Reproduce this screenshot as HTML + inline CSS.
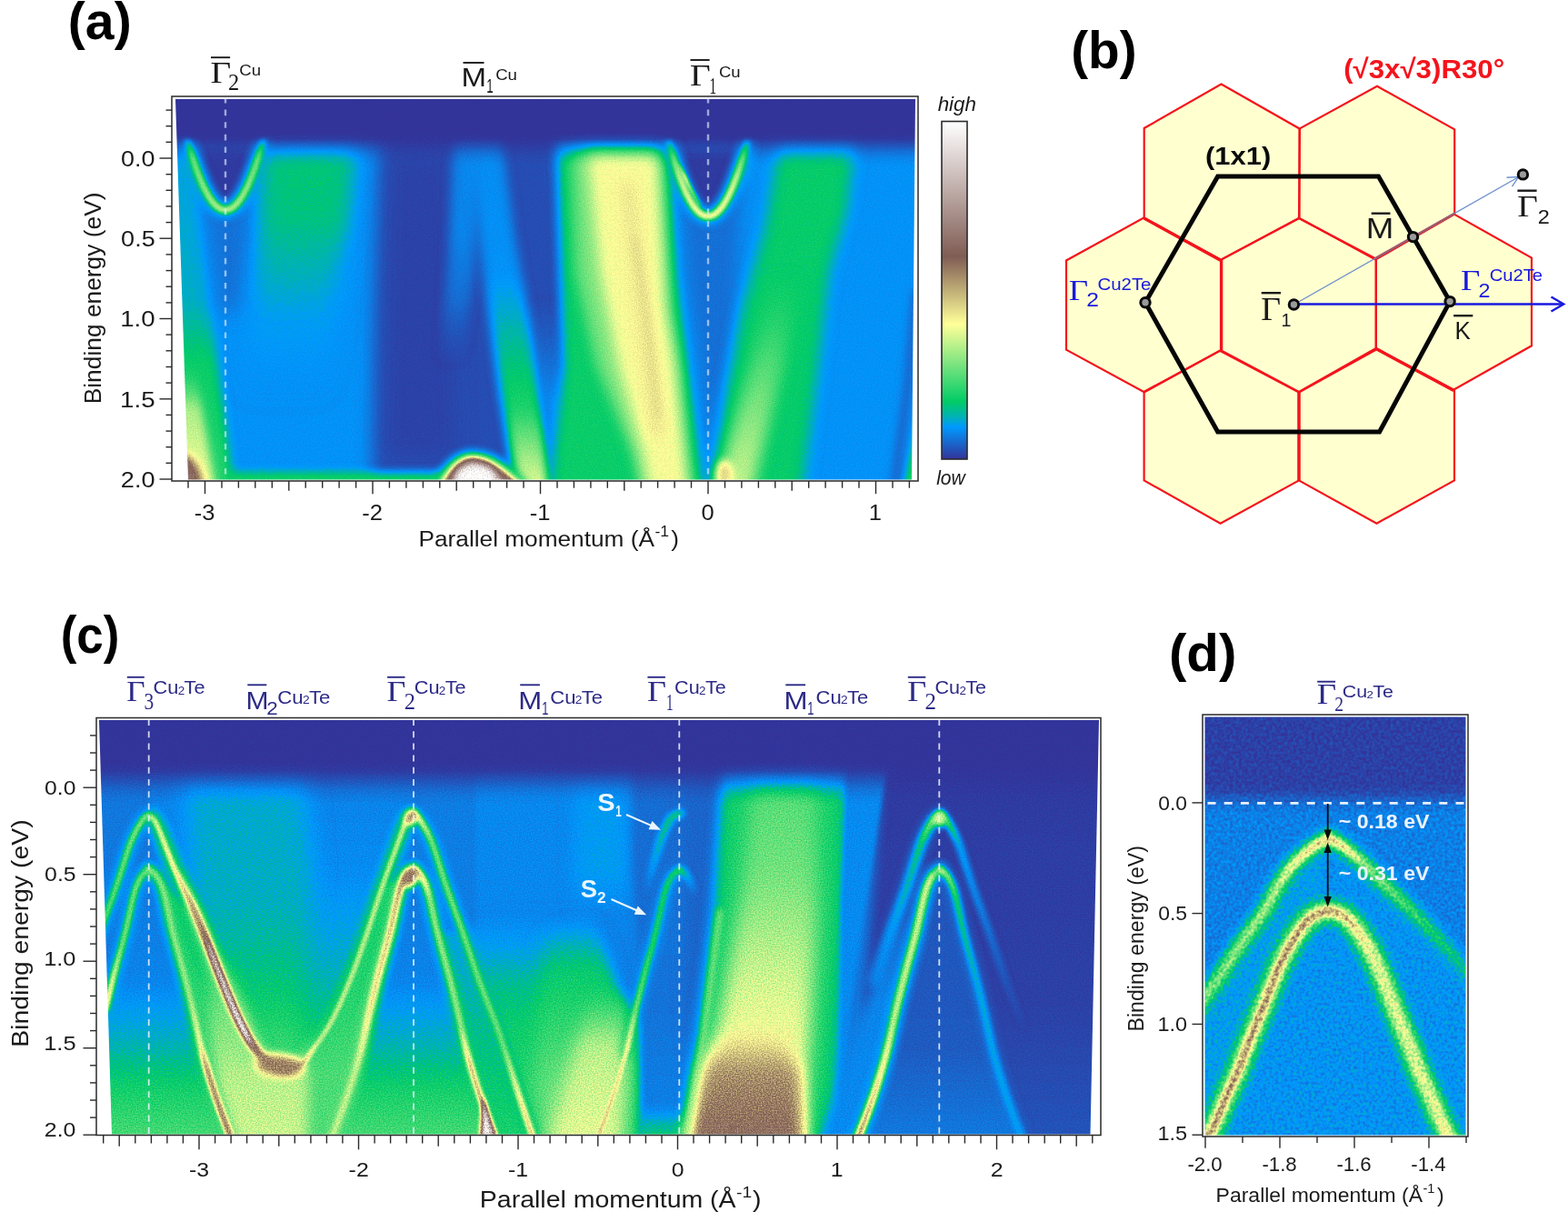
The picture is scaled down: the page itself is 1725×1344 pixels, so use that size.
<!DOCTYPE html>
<html lang="en">
<head>
<meta charset="utf-8">
<title>ARPES band maps of Cu(111) and Cu2Te surface alloy</title>
<style>
html,body{margin:0;padding:0;background:#ffffff;}
body{width:1725px;height:1344px;overflow:hidden;}
svg{display:block;}
text{font-family:"Liberation Sans",sans-serif;}
</style>
</head>
<body>
<svg width="1725" height="1344" viewBox="0 0 1725 1344">
<defs>
<filter id="cmA" filterUnits="userSpaceOnUse" x="150" y="70" width="900" height="500" color-interpolation-filters="sRGB"><feTurbulence type="fractalNoise" baseFrequency="0.8" numOctaves="1" seed="4" result="n"/><feColorMatrix in="n" type="matrix" values="0 0 0 1 0 0 0 0 1 0 0 0 0 1 0 0 0 0 0 1" result="ng"/><feComposite in="SourceGraphic" in2="ng" operator="arithmetic" k1="0.200" k2="0.900" k3="0.035" k4="-0.018" result="s"/><feComponentTransfer in="s"><feFuncR type="table" tableValues="0.2 0.167 0.133 0.1 0.067 0.033 0 0 0 0 0 0.1 0.2 0.3 0.4 0.5 0.6 0.7 0.8 0.9 1 0.95 0.9 0.85 0.8 0.75 0.7 0.65 0.6 0.55 0.5 0.55 0.6 0.65 0.7 0.75 0.8 0.85 0.9 0.95 1"/><feFuncG type="table" tableValues="0.2 0.267 0.333 0.4 0.467 0.533 0.6 0.65 0.7 0.75 0.8 0.82 0.84 0.86 0.88 0.9 0.92 0.94 0.96 0.98 1 0.936 0.872 0.808 0.744 0.68 0.616 0.552 0.488 0.424 0.36 0.424 0.488 0.552 0.616 0.68 0.744 0.808 0.872 0.936 1"/><feFuncB type="table" tableValues="0.6 0.667 0.733 0.8 0.867 0.933 1 0.85 0.7 0.55 0.4 0.42 0.44 0.46 0.48 0.5 0.52 0.54 0.56 0.58 0.6 0.573 0.546 0.519 0.492 0.465 0.438 0.411 0.384 0.357 0.33 0.397 0.464 0.531 0.598 0.665 0.732 0.799 0.866 0.933 1"/></feComponentTransfer></filter>
<filter id="cmC" filterUnits="userSpaceOnUse" x="60" y="750" width="1200" height="540" color-interpolation-filters="sRGB"><feTurbulence type="fractalNoise" baseFrequency="0.7" numOctaves="1" seed="7" result="n"/><feColorMatrix in="n" type="matrix" values="0 0 0 1 0 0 0 0 1 0 0 0 0 1 0 0 0 0 0 1" result="ng"/><feComposite in="SourceGraphic" in2="ng" operator="arithmetic" k1="0.400" k2="0.800" k3="0.050" k4="-0.025" result="s"/><feComponentTransfer in="s"><feFuncR type="table" tableValues="0.2 0.167 0.133 0.1 0.067 0.033 0 0 0 0 0 0.1 0.2 0.3 0.4 0.5 0.6 0.7 0.8 0.9 1 0.95 0.9 0.85 0.8 0.75 0.7 0.65 0.6 0.55 0.5 0.55 0.6 0.65 0.7 0.75 0.8 0.85 0.9 0.95 1"/><feFuncG type="table" tableValues="0.2 0.267 0.333 0.4 0.467 0.533 0.6 0.65 0.7 0.75 0.8 0.82 0.84 0.86 0.88 0.9 0.92 0.94 0.96 0.98 1 0.936 0.872 0.808 0.744 0.68 0.616 0.552 0.488 0.424 0.36 0.424 0.488 0.552 0.616 0.68 0.744 0.808 0.872 0.936 1"/><feFuncB type="table" tableValues="0.6 0.667 0.733 0.8 0.867 0.933 1 0.85 0.7 0.55 0.4 0.42 0.44 0.46 0.48 0.5 0.52 0.54 0.56 0.58 0.6 0.573 0.546 0.519 0.492 0.465 0.438 0.411 0.384 0.357 0.33 0.397 0.464 0.531 0.598 0.665 0.732 0.799 0.866 0.933 1"/></feComponentTransfer></filter>
<filter id="cmD" filterUnits="userSpaceOnUse" x="1280" y="750" width="380" height="540" color-interpolation-filters="sRGB"><feTurbulence type="fractalNoise" baseFrequency="0.3" numOctaves="2" seed="11" result="n"/><feColorMatrix in="n" type="matrix" values="0 0 0 1 0 0 0 0 1 0 0 0 0 1 0 0 0 0 0 1" result="ng"/><feComposite in="SourceGraphic" in2="ng" operator="arithmetic" k1="0.500" k2="0.750" k3="0.090" k4="-0.045" result="s"/><feComponentTransfer in="s"><feFuncR type="table" tableValues="0.2 0.167 0.133 0.1 0.067 0.033 0 0 0 0 0 0.1 0.2 0.3 0.4 0.5 0.6 0.7 0.8 0.9 1 0.95 0.9 0.85 0.8 0.75 0.7 0.65 0.6 0.55 0.5 0.55 0.6 0.65 0.7 0.75 0.8 0.85 0.9 0.95 1"/><feFuncG type="table" tableValues="0.2 0.267 0.333 0.4 0.467 0.533 0.6 0.65 0.7 0.75 0.8 0.82 0.84 0.86 0.88 0.9 0.92 0.94 0.96 0.98 1 0.936 0.872 0.808 0.744 0.68 0.616 0.552 0.488 0.424 0.36 0.424 0.488 0.552 0.616 0.68 0.744 0.808 0.872 0.936 1"/><feFuncB type="table" tableValues="0.6 0.667 0.733 0.8 0.867 0.933 1 0.85 0.7 0.55 0.4 0.42 0.44 0.46 0.48 0.5 0.52 0.54 0.56 0.58 0.6 0.573 0.546 0.519 0.492 0.465 0.438 0.411 0.384 0.357 0.33 0.397 0.464 0.531 0.598 0.665 0.732 0.799 0.866 0.933 1"/></feComponentTransfer></filter>
<clipPath id="clipA"><polygon points="193,109 1007,109 1003,527.5 207,527.5"/></clipPath>
<clipPath id="clipC"><polygon points="109,792 1209,792 1199.5,1247.5 123,1247.5"/></clipPath>
<clipPath id="clipD"><polygon points="1325.5,788.5 1612.5,788.5 1612.5,1248.5 1325.5,1248.5"/></clipPath>
<linearGradient id="g1" gradientUnits="userSpaceOnUse" x1="0" y1="140" x2="0" y2="545"><stop offset="0%" stop-color="rgb(43,43,43)"/><stop offset="46.9%" stop-color="rgb(48,48,48)"/><stop offset="64.2%" stop-color="rgb(66,66,66)"/><stop offset="100%" stop-color="rgb(76,76,76)"/></linearGradient>
<linearGradient id="g2" gradientUnits="userSpaceOnUse" x1="0" y1="400" x2="0" y2="545"><stop offset="0%" stop-color="rgb(76,76,76)" stop-opacity="0"/><stop offset="34.5%" stop-color="rgb(107,107,107)"/><stop offset="100%" stop-color="rgb(128,128,128)"/></linearGradient>
<linearGradient id="g3" gradientUnits="userSpaceOnUse" x1="0" y1="140" x2="0" y2="440"><stop offset="0%" stop-color="rgb(51,51,51)"/><stop offset="53.3%" stop-color="rgb(48,48,48)"/><stop offset="100%" stop-color="rgb(38,38,38)" stop-opacity="0"/></linearGradient>
<linearGradient id="g4" gradientUnits="userSpaceOnUse" x1="0" y1="140" x2="0" y2="345"><stop offset="0%" stop-color="rgb(61,61,61)"/><stop offset="48.8%" stop-color="rgb(60,60,60)"/><stop offset="100%" stop-color="rgb(51,51,51)" stop-opacity="0"/></linearGradient>
<linearGradient id="g5" gradientUnits="userSpaceOnUse" x1="0" y1="140" x2="0" y2="400"><stop offset="0%" stop-color="rgb(33,33,33)"/><stop offset="46.2%" stop-color="rgb(31,31,31)"/><stop offset="73.1%" stop-color="rgb(26,26,26)" stop-opacity="0.8"/><stop offset="100%" stop-color="rgb(18,18,18)" stop-opacity="0"/></linearGradient>
<linearGradient id="g6" gradientUnits="userSpaceOnUse" x1="0" y1="140" x2="0" y2="545"><stop offset="0%" stop-color="rgb(33,33,33)"/><stop offset="39.5%" stop-color="rgb(36,36,36)"/><stop offset="56.8%" stop-color="rgb(54,54,54)"/><stop offset="76.5%" stop-color="rgb(71,71,71)"/><stop offset="88.9%" stop-color="rgb(102,102,102)"/><stop offset="100%" stop-color="rgb(128,128,128)"/></linearGradient>
<linearGradient id="g7" gradientUnits="userSpaceOnUse" x1="0" y1="330" x2="0" y2="545"><stop offset="0%" stop-color="rgb(26,26,26)" stop-opacity="0"/><stop offset="51.2%" stop-color="rgb(34,34,34)"/><stop offset="100%" stop-color="rgb(36,36,36)"/></linearGradient>
<linearGradient id="g8" gradientUnits="userSpaceOnUse" x1="0" y1="300" x2="0" y2="545"><stop offset="0%" stop-color="rgb(76,76,76)" stop-opacity="0"/><stop offset="40.8%" stop-color="rgb(84,84,84)"/><stop offset="81.6%" stop-color="rgb(107,107,107)"/><stop offset="100%" stop-color="rgb(115,115,115)"/></linearGradient>
<linearGradient id="g9" gradientUnits="userSpaceOnUse" x1="0" y1="146" x2="0" y2="186"><stop offset="0%" stop-color="rgb(0,0,0)"/><stop offset="17.5%" stop-color="rgb(0,0,0)" stop-opacity="0.93"/><stop offset="35%" stop-color="rgb(0,0,0)" stop-opacity="0.66"/><stop offset="52.5%" stop-color="rgb(0,0,0)" stop-opacity="0.36"/><stop offset="70%" stop-color="rgb(0,0,0)" stop-opacity="0.14"/><stop offset="85%" stop-color="rgb(0,0,0)" stop-opacity="0.04"/><stop offset="100%" stop-color="rgb(0,0,0)" stop-opacity="0"/></linearGradient>
<linearGradient id="g10" gradientUnits="userSpaceOnUse" x1="0" y1="150" x2="0" y2="231"><stop offset="0%" stop-color="rgb(0,0,0)" stop-opacity="0"/><stop offset="27.2%" stop-color="rgb(3,3,3)"/><stop offset="100%" stop-color="rgb(3,3,3)"/></linearGradient>
<linearGradient id="g11" gradientUnits="userSpaceOnUse" x1="0" y1="151" x2="0" y2="239"><stop offset="0%" stop-color="rgb(33,33,33)" stop-opacity="0"/><stop offset="13.6%" stop-color="rgb(43,43,43)" stop-opacity="0.8"/><stop offset="34.1%" stop-color="rgb(51,51,51)" stop-opacity="0.9"/><stop offset="100%" stop-color="rgb(51,51,51)" stop-opacity="0.9"/></linearGradient>
<linearGradient id="g12" gradientUnits="userSpaceOnUse" x1="0" y1="151" x2="0" y2="236"><stop offset="0%" stop-color="rgb(51,51,51)" stop-opacity="0"/><stop offset="8.2%" stop-color="rgb(64,64,64)" stop-opacity="0.8"/><stop offset="25.9%" stop-color="rgb(92,92,92)"/><stop offset="51.8%" stop-color="rgb(99,99,99)"/><stop offset="94.1%" stop-color="rgb(112,112,112)"/><stop offset="100%" stop-color="rgb(112,112,112)"/></linearGradient>
<linearGradient id="g13" gradientUnits="userSpaceOnUse" x1="0" y1="150" x2="0" y2="238"><stop offset="0%" stop-color="rgb(0,0,0)" stop-opacity="0"/><stop offset="25%" stop-color="rgb(3,3,3)"/><stop offset="100%" stop-color="rgb(3,3,3)"/></linearGradient>
<linearGradient id="g14" gradientUnits="userSpaceOnUse" x1="0" y1="152" x2="0" y2="246"><stop offset="0%" stop-color="rgb(33,33,33)" stop-opacity="0"/><stop offset="12.8%" stop-color="rgb(43,43,43)" stop-opacity="0.8"/><stop offset="31.9%" stop-color="rgb(51,51,51)" stop-opacity="0.9"/><stop offset="100%" stop-color="rgb(51,51,51)" stop-opacity="0.9"/></linearGradient>
<linearGradient id="g15" gradientUnits="userSpaceOnUse" x1="0" y1="152" x2="0" y2="243"><stop offset="0%" stop-color="rgb(51,51,51)" stop-opacity="0"/><stop offset="7.7%" stop-color="rgb(64,64,64)" stop-opacity="0.8"/><stop offset="24.2%" stop-color="rgb(92,92,92)"/><stop offset="52%" stop-color="rgb(120,120,120)"/><stop offset="94.5%" stop-color="rgb(133,133,133)"/><stop offset="100%" stop-color="rgb(133,133,133)"/></linearGradient>
<linearGradient id="g16" gradientUnits="userSpaceOnUse" x1="0" y1="178" x2="0" y2="226"><stop offset="0%" stop-color="rgb(153,153,153)" stop-opacity="0"/><stop offset="35.4%" stop-color="rgb(153,153,153)" stop-opacity="0.8"/><stop offset="100%" stop-color="rgb(148,148,148)" stop-opacity="0.3"/></linearGradient>
<linearGradient id="g17" gradientUnits="userSpaceOnUse" x1="0" y1="840" x2="0" y2="1262"><stop offset="0%" stop-color="rgb(3,3,3)"/><stop offset="61.6%" stop-color="rgb(5,5,5)"/><stop offset="100%" stop-color="rgb(13,13,13)"/></linearGradient>
<linearGradient id="g18" gradientUnits="userSpaceOnUse" x1="0" y1="840" x2="0" y2="1180"><stop offset="0%" stop-color="rgb(29,29,29)"/><stop offset="35.3%" stop-color="rgb(34,34,34)"/><stop offset="64.7%" stop-color="rgb(48,48,48)"/><stop offset="82.4%" stop-color="rgb(61,61,61)"/><stop offset="100%" stop-color="rgb(76,76,76)"/></linearGradient>
<linearGradient id="g19" gradientUnits="userSpaceOnUse" x1="0" y1="840" x2="0" y2="1170"><stop offset="0%" stop-color="rgb(47,47,47)" stop-opacity="0.9"/><stop offset="48.5%" stop-color="rgb(51,51,51)" stop-opacity="0.9"/><stop offset="78.8%" stop-color="rgb(66,66,66)" stop-opacity="0.9"/><stop offset="100%" stop-color="rgb(84,84,84)" stop-opacity="0.9"/></linearGradient>
<linearGradient id="g20" gradientUnits="userSpaceOnUse" x1="0" y1="960" x2="0" y2="1262"><stop offset="0%" stop-color="rgb(61,61,61)"/><stop offset="33.1%" stop-color="rgb(69,69,69)"/><stop offset="72.8%" stop-color="rgb(82,82,82)"/><stop offset="100%" stop-color="rgb(84,84,84)"/></linearGradient>
<linearGradient id="g21" gradientUnits="userSpaceOnUse" x1="0" y1="1040" x2="0" y2="1262"><stop offset="0%" stop-color="rgb(76,76,76)" stop-opacity="0"/><stop offset="31.5%" stop-color="rgb(92,92,92)"/><stop offset="67.6%" stop-color="rgb(110,110,110)"/><stop offset="100%" stop-color="rgb(115,115,115)"/></linearGradient>
<linearGradient id="g22" gradientUnits="userSpaceOnUse" x1="0" y1="957" x2="0" y2="1262"><stop offset="0%" stop-color="rgb(26,26,26)"/><stop offset="40.3%" stop-color="rgb(31,31,31)"/><stop offset="63.3%" stop-color="rgb(51,51,51)"/><stop offset="79.7%" stop-color="rgb(69,69,69)"/><stop offset="100%" stop-color="rgb(84,84,84)"/></linearGradient>
<linearGradient id="g23" gradientUnits="userSpaceOnUse" x1="0" y1="957" x2="0" y2="1262"><stop offset="0%" stop-color="rgb(26,26,26)"/><stop offset="40.3%" stop-color="rgb(31,31,31)"/><stop offset="63.3%" stop-color="rgb(51,51,51)"/><stop offset="79.7%" stop-color="rgb(69,69,69)"/><stop offset="100%" stop-color="rgb(84,84,84)"/></linearGradient>
<linearGradient id="g24" gradientUnits="userSpaceOnUse" x1="0" y1="840" x2="0" y2="1100"><stop offset="0%" stop-color="rgb(33,33,33)"/><stop offset="61.5%" stop-color="rgb(32,32,32)"/><stop offset="100%" stop-color="rgb(31,31,31)" stop-opacity="0"/></linearGradient>
<linearGradient id="g25" gradientUnits="userSpaceOnUse" x1="0" y1="1020" x2="0" y2="1262"><stop offset="0%" stop-color="rgb(41,41,41)"/><stop offset="41.3%" stop-color="rgb(56,56,56)"/><stop offset="100%" stop-color="rgb(71,71,71)"/></linearGradient>
<linearGradient id="g26" gradientUnits="userSpaceOnUse" x1="0" y1="998" x2="0" y2="1262"><stop offset="0%" stop-color="rgb(41,41,41)" stop-opacity="0"/><stop offset="12.1%" stop-color="rgb(46,46,46)" stop-opacity="0.5"/><stop offset="29.2%" stop-color="rgb(55,55,55)"/><stop offset="50%" stop-color="rgb(66,66,66)"/><stop offset="76.5%" stop-color="rgb(74,74,74)"/><stop offset="100%" stop-color="rgb(76,76,76)"/></linearGradient>
<linearGradient id="g27" gradientUnits="userSpaceOnUse" x1="0" y1="1010" x2="0" y2="1262"><stop offset="0%" stop-color="rgb(51,51,51)" stop-opacity="0"/><stop offset="19.8%" stop-color="rgb(64,64,64)" stop-opacity="0.9"/><stop offset="47.6%" stop-color="rgb(76,76,76)"/><stop offset="75.4%" stop-color="rgb(92,92,92)"/><stop offset="100%" stop-color="rgb(99,99,99)"/></linearGradient>
<linearGradient id="g28" gradientUnits="userSpaceOnUse" x1="0" y1="1090" x2="0" y2="1262"><stop offset="0%" stop-color="rgb(89,89,89)" stop-opacity="0"/><stop offset="34.9%" stop-color="rgb(110,110,110)"/><stop offset="100%" stop-color="rgb(122,122,122)"/></linearGradient>
<linearGradient id="g29" gradientUnits="userSpaceOnUse" x1="0" y1="845" x2="0" y2="1010"><stop offset="0%" stop-color="rgb(38,38,38)"/><stop offset="69.7%" stop-color="rgb(40,40,40)"/><stop offset="100%" stop-color="rgb(38,38,38)" stop-opacity="0"/></linearGradient>
<linearGradient id="g30" gradientUnits="userSpaceOnUse" x1="0" y1="957" x2="0" y2="1262"><stop offset="0%" stop-color="rgb(26,26,26)"/><stop offset="46.9%" stop-color="rgb(24,24,24)"/><stop offset="100%" stop-color="rgb(31,31,31)"/></linearGradient>
<linearGradient id="g31" gradientUnits="userSpaceOnUse" x1="0" y1="1215" x2="0" y2="1262"><stop offset="0%" stop-color="rgb(46,46,46)" stop-opacity="0"/><stop offset="48.9%" stop-color="rgb(59,59,59)" stop-opacity="0.9"/><stop offset="100%" stop-color="rgb(69,69,69)"/></linearGradient>
<linearGradient id="g32" gradientUnits="userSpaceOnUse" x1="0" y1="840" x2="0" y2="1262"><stop offset="0%" stop-color="rgb(82,82,82)"/><stop offset="28.4%" stop-color="rgb(92,92,92)"/><stop offset="52.1%" stop-color="rgb(112,112,112)"/><stop offset="73.5%" stop-color="rgb(128,128,128)"/><stop offset="100%" stop-color="rgb(133,133,133)"/></linearGradient>
<linearGradient id="g33" gradientUnits="userSpaceOnUse" x1="0" y1="1130" x2="0" y2="1262"><stop offset="0%" stop-color="rgb(153,153,153)" stop-opacity="0"/><stop offset="34.1%" stop-color="rgb(173,173,173)" stop-opacity="0.9"/><stop offset="100%" stop-color="rgb(194,194,194)"/></linearGradient>
<linearGradient id="g34" gradientUnits="userSpaceOnUse" x1="0" y1="970" x2="0" y2="1262"><stop offset="0%" stop-color="rgb(15,15,15)" stop-opacity="0"/><stop offset="20.5%" stop-color="rgb(23,23,23)" stop-opacity="0.9"/><stop offset="44.5%" stop-color="rgb(31,31,31)"/><stop offset="100%" stop-color="rgb(33,33,33)"/></linearGradient>
<linearGradient id="g35" gradientUnits="userSpaceOnUse" x1="0" y1="957" x2="0" y2="1262"><stop offset="0%" stop-color="rgb(13,13,13)"/><stop offset="63.3%" stop-color="rgb(15,15,15)"/><stop offset="100%" stop-color="rgb(28,28,28)"/></linearGradient>
<linearGradient id="g36" gradientUnits="userSpaceOnUse" x1="0" y1="896" x2="0" y2="1030"><stop offset="0%" stop-color="rgb(107,107,107)"/><stop offset="100%" stop-color="rgb(87,87,87)"/></linearGradient>
<linearGradient id="g37" gradientUnits="userSpaceOnUse" x1="0" y1="957" x2="0" y2="1130"><stop offset="0%" stop-color="rgb(102,102,102)"/><stop offset="48%" stop-color="rgb(102,102,102)"/><stop offset="82.7%" stop-color="rgb(153,153,153)"/><stop offset="100%" stop-color="rgb(153,153,153)"/></linearGradient>
<linearGradient id="g38" gradientUnits="userSpaceOnUse" x1="0" y1="957" x2="0" y2="1262"><stop offset="0%" stop-color="rgb(102,102,102)"/><stop offset="46.9%" stop-color="rgb(112,112,112)"/><stop offset="63.3%" stop-color="rgb(140,140,140)"/><stop offset="100%" stop-color="rgb(153,153,153)"/></linearGradient>
<linearGradient id="g39" gradientUnits="userSpaceOnUse" x1="0" y1="1140" x2="0" y2="1262"><stop offset="0%" stop-color="rgb(153,153,153)" stop-opacity="0"/><stop offset="28.7%" stop-color="rgb(178,178,178)" stop-opacity="0.9"/><stop offset="100%" stop-color="rgb(184,184,184)"/></linearGradient>
<linearGradient id="g40" gradientUnits="userSpaceOnUse" x1="164" y1="0" x2="455" y2="0"><stop offset="0%" stop-color="rgb(76,76,76)" stop-opacity="0.7"/><stop offset="29.6%" stop-color="rgb(102,102,102)" stop-opacity="0.85"/><stop offset="57%" stop-color="rgb(102,102,102)" stop-opacity="0.85"/><stop offset="63.9%" stop-color="rgb(76,76,76)" stop-opacity="0.7"/><stop offset="100%" stop-color="rgb(76,76,76)" stop-opacity="0.7"/></linearGradient>
<linearGradient id="g41" gradientUnits="userSpaceOnUse" x1="164" y1="0" x2="455" y2="0"><stop offset="0%" stop-color="rgb(107,107,107)"/><stop offset="7.2%" stop-color="rgb(128,128,128)"/><stop offset="17.5%" stop-color="rgb(153,153,153)"/><stop offset="58.8%" stop-color="rgb(143,143,143)"/><stop offset="63.9%" stop-color="rgb(112,112,112)"/><stop offset="94.8%" stop-color="rgb(110,110,110)"/><stop offset="100%" stop-color="rgb(128,128,128)"/></linearGradient>
<linearGradient id="g42" gradientUnits="userSpaceOnUse" x1="193" y1="0" x2="316" y2="0"><stop offset="0%" stop-color="rgb(153,153,153)" stop-opacity="0"/><stop offset="17.9%" stop-color="rgb(168,168,168)"/><stop offset="87%" stop-color="rgb(178,178,178)"/><stop offset="100%" stop-color="rgb(178,178,178)" stop-opacity="0.8"/></linearGradient>
<linearGradient id="g43" gradientUnits="userSpaceOnUse" x1="218" y1="0" x2="288" y2="0"><stop offset="0%" stop-color="rgb(204,204,204)" stop-opacity="0"/><stop offset="20%" stop-color="rgb(235,235,235)" stop-opacity="0.9"/><stop offset="74.3%" stop-color="rgb(255,255,255)"/><stop offset="100%" stop-color="rgb(217,217,217)" stop-opacity="0"/></linearGradient>
<linearGradient id="g44" gradientUnits="userSpaceOnUse" x1="0" y1="894" x2="0" y2="1262"><stop offset="0%" stop-color="rgb(140,140,140)"/><stop offset="8.4%" stop-color="rgb(102,102,102)"/><stop offset="69.6%" stop-color="rgb(97,97,97)"/><stop offset="87.2%" stop-color="rgb(153,153,153)"/><stop offset="100%" stop-color="rgb(173,173,173)"/></linearGradient>
<linearGradient id="g45" gradientUnits="userSpaceOnUse" x1="0" y1="957" x2="0" y2="1262"><stop offset="0%" stop-color="rgb(178,178,178)"/><stop offset="14.1%" stop-color="rgb(158,158,158)"/><stop offset="46.9%" stop-color="rgb(143,143,143)"/><stop offset="73.1%" stop-color="rgb(115,115,115)"/><stop offset="100%" stop-color="rgb(115,115,115)"/></linearGradient>
<linearGradient id="g46" gradientUnits="userSpaceOnUse" x1="0" y1="957" x2="0" y2="1262"><stop offset="0%" stop-color="rgb(158,158,158)"/><stop offset="10.8%" stop-color="rgb(107,107,107)"/><stop offset="56.7%" stop-color="rgb(107,107,107)"/><stop offset="69.8%" stop-color="rgb(163,163,163)"/><stop offset="100%" stop-color="rgb(184,184,184)"/></linearGradient>
<linearGradient id="g47" gradientUnits="userSpaceOnUse" x1="0" y1="894" x2="0" y2="985"><stop offset="0%" stop-color="rgb(74,74,74)"/><stop offset="34.1%" stop-color="rgb(64,64,64)"/><stop offset="72.5%" stop-color="rgb(43,43,43)" stop-opacity="0.8"/><stop offset="100%" stop-color="rgb(31,31,31)" stop-opacity="0"/></linearGradient>
<linearGradient id="g48" gradientUnits="userSpaceOnUse" x1="0" y1="957" x2="0" y2="1160"><stop offset="0%" stop-color="rgb(71,71,71)"/><stop offset="40.9%" stop-color="rgb(76,76,76)"/><stop offset="70.4%" stop-color="rgb(97,97,97)"/><stop offset="100%" stop-color="rgb(117,117,117)" stop-opacity="0.9"/></linearGradient>
<linearGradient id="g49" gradientUnits="userSpaceOnUse" x1="0" y1="1110" x2="0" y2="1262"><stop offset="0%" stop-color="rgb(128,128,128)" stop-opacity="0"/><stop offset="32.9%" stop-color="rgb(143,143,143)" stop-opacity="0.9"/><stop offset="100%" stop-color="rgb(158,158,158)"/></linearGradient>
<linearGradient id="g50" gradientUnits="userSpaceOnUse" x1="0" y1="957" x2="0" y2="990"><stop offset="0%" stop-color="rgb(76,76,76)"/><stop offset="100%" stop-color="rgb(36,36,36)" stop-opacity="0"/></linearGradient>
<linearGradient id="g51" gradientUnits="userSpaceOnUse" x1="0" y1="896" x2="0" y2="1085"><stop offset="0%" stop-color="rgb(128,128,128)"/><stop offset="18%" stop-color="rgb(76,76,76)"/><stop offset="55%" stop-color="rgb(51,51,51)"/><stop offset="100%" stop-color="rgb(41,41,41)" stop-opacity="0"/></linearGradient>
<linearGradient id="g52" gradientUnits="userSpaceOnUse" x1="0" y1="896" x2="0" y2="1140"><stop offset="0%" stop-color="rgb(120,120,120)"/><stop offset="13.9%" stop-color="rgb(56,56,56)"/><stop offset="42.6%" stop-color="rgb(38,38,38)"/><stop offset="100%" stop-color="rgb(26,26,26)" stop-opacity="0"/></linearGradient>
<linearGradient id="g53" gradientUnits="userSpaceOnUse" x1="0" y1="957" x2="0" y2="1262"><stop offset="0%" stop-color="rgb(120,120,120)"/><stop offset="56.7%" stop-color="rgb(115,115,115)"/><stop offset="76.4%" stop-color="rgb(143,143,143)"/><stop offset="100%" stop-color="rgb(178,178,178)"/></linearGradient>
<linearGradient id="g54" gradientUnits="userSpaceOnUse" x1="0" y1="957" x2="0" y2="1262"><stop offset="0%" stop-color="rgb(117,117,117)"/><stop offset="10.8%" stop-color="rgb(76,76,76)"/><stop offset="40.3%" stop-color="rgb(51,51,51)"/><stop offset="100%" stop-color="rgb(43,43,43)"/></linearGradient>
<linearGradient id="g55" gradientUnits="userSpaceOnUse" x1="0" y1="838" x2="0" y2="886"><stop offset="0%" stop-color="rgb(0,0,0)"/><stop offset="20.8%" stop-color="rgb(0,0,0)" stop-opacity="0.9"/><stop offset="41.7%" stop-color="rgb(0,0,0)" stop-opacity="0.6"/><stop offset="62.5%" stop-color="rgb(0,0,0)" stop-opacity="0.28"/><stop offset="83.3%" stop-color="rgb(0,0,0)" stop-opacity="0.08"/><stop offset="100%" stop-color="rgb(0,0,0)" stop-opacity="0"/></linearGradient>
<linearGradient id="g56" gradientUnits="userSpaceOnUse" x1="0" y1="1002" x2="0" y2="1262"><stop offset="0%" stop-color="rgb(38,38,38)"/><stop offset="37.7%" stop-color="rgb(36,36,36)"/><stop offset="100%" stop-color="rgb(36,36,36)"/></linearGradient>
<linearGradient id="g57" gradientUnits="userSpaceOnUse" x1="1460" y1="0" x2="1625" y2="0"><stop offset="0%" stop-color="rgb(64,64,64)" stop-opacity="0.85"/><stop offset="48.5%" stop-color="rgb(59,59,59)" stop-opacity="0.8"/><stop offset="100%" stop-color="rgb(51,51,51)" stop-opacity="0.6"/></linearGradient>
<linearGradient id="g58" gradientUnits="userSpaceOnUse" x1="1320" y1="0" x2="1462" y2="0"><stop offset="0%" stop-color="rgb(97,97,97)"/><stop offset="56.3%" stop-color="rgb(112,112,112)"/><stop offset="100%" stop-color="rgb(128,128,128)"/></linearGradient>
<linearGradient id="g59" gradientUnits="userSpaceOnUse" x1="1460" y1="0" x2="1625" y2="0"><stop offset="0%" stop-color="rgb(128,128,128)"/><stop offset="24.2%" stop-color="rgb(107,107,107)"/><stop offset="60.6%" stop-color="rgb(76,76,76)"/><stop offset="100%" stop-color="rgb(56,56,56)" stop-opacity="0.8"/></linearGradient>
<linearGradient id="g60" gradientUnits="userSpaceOnUse" x1="1400" y1="0" x2="1505" y2="0"><stop offset="0%" stop-color="rgb(128,128,128)" stop-opacity="0"/><stop offset="28.6%" stop-color="rgb(153,153,153)" stop-opacity="0.9"/><stop offset="59%" stop-color="rgb(163,163,163)"/><stop offset="81%" stop-color="rgb(148,148,148)" stop-opacity="0.9"/><stop offset="100%" stop-color="rgb(128,128,128)" stop-opacity="0"/></linearGradient>
<linearGradient id="g61" gradientUnits="userSpaceOnUse" x1="1320" y1="0" x2="1615" y2="0"><stop offset="0%" stop-color="rgb(178,178,178)"/><stop offset="48.1%" stop-color="rgb(178,178,178)"/><stop offset="57.6%" stop-color="rgb(153,153,153)" stop-opacity="0.9"/><stop offset="67.8%" stop-color="rgb(128,128,128)" stop-opacity="0"/><stop offset="84.7%" stop-color="rgb(128,128,128)" stop-opacity="0"/><stop offset="93.2%" stop-color="rgb(153,153,153)" stop-opacity="0.7"/><stop offset="100%" stop-color="rgb(153,153,153)" stop-opacity="0.7"/></linearGradient>
<linearGradient id="g62" gradientUnits="userSpaceOnUse" x1="0" y1="862" x2="0" y2="896"><stop offset="0%" stop-color="rgb(5,5,5)"/><stop offset="23.5%" stop-color="rgb(5,5,5)" stop-opacity="0.9"/><stop offset="47.1%" stop-color="rgb(5,5,5)" stop-opacity="0.55"/><stop offset="70.6%" stop-color="rgb(5,5,5)" stop-opacity="0.2"/><stop offset="100%" stop-color="rgb(5,5,5)" stop-opacity="0"/></linearGradient>
<filter id="b1_5" filterUnits="userSpaceOnUse" x="0" y="0" width="1725" height="1344" color-interpolation-filters="sRGB"><feGaussianBlur stdDeviation="1.5"/></filter><filter id="b1_8" filterUnits="userSpaceOnUse" x="0" y="0" width="1725" height="1344" color-interpolation-filters="sRGB"><feGaussianBlur stdDeviation="1.8"/></filter><filter id="b2" filterUnits="userSpaceOnUse" x="0" y="0" width="1725" height="1344" color-interpolation-filters="sRGB"><feGaussianBlur stdDeviation="2"/></filter><filter id="b2_1" filterUnits="userSpaceOnUse" x="0" y="0" width="1725" height="1344" color-interpolation-filters="sRGB"><feGaussianBlur stdDeviation="2.1"/></filter><filter id="b2_2" filterUnits="userSpaceOnUse" x="0" y="0" width="1725" height="1344" color-interpolation-filters="sRGB"><feGaussianBlur stdDeviation="2.2"/></filter><filter id="b2_5" filterUnits="userSpaceOnUse" x="0" y="0" width="1725" height="1344" color-interpolation-filters="sRGB"><feGaussianBlur stdDeviation="2.5"/></filter><filter id="b2_6" filterUnits="userSpaceOnUse" x="0" y="0" width="1725" height="1344" color-interpolation-filters="sRGB"><feGaussianBlur stdDeviation="2.6"/></filter><filter id="b3" filterUnits="userSpaceOnUse" x="0" y="0" width="1725" height="1344" color-interpolation-filters="sRGB"><feGaussianBlur stdDeviation="3"/></filter><filter id="b3_2" filterUnits="userSpaceOnUse" x="0" y="0" width="1725" height="1344" color-interpolation-filters="sRGB"><feGaussianBlur stdDeviation="3.2"/></filter><filter id="b4" filterUnits="userSpaceOnUse" x="0" y="0" width="1725" height="1344" color-interpolation-filters="sRGB"><feGaussianBlur stdDeviation="4"/></filter><filter id="b4_5" filterUnits="userSpaceOnUse" x="0" y="0" width="1725" height="1344" color-interpolation-filters="sRGB"><feGaussianBlur stdDeviation="4.5"/></filter><filter id="b5" filterUnits="userSpaceOnUse" x="0" y="0" width="1725" height="1344" color-interpolation-filters="sRGB"><feGaussianBlur stdDeviation="5"/></filter><filter id="b6" filterUnits="userSpaceOnUse" x="0" y="0" width="1725" height="1344" color-interpolation-filters="sRGB"><feGaussianBlur stdDeviation="6"/></filter><filter id="b7" filterUnits="userSpaceOnUse" x="0" y="0" width="1725" height="1344" color-interpolation-filters="sRGB"><feGaussianBlur stdDeviation="7"/></filter><filter id="b8" filterUnits="userSpaceOnUse" x="0" y="0" width="1725" height="1344" color-interpolation-filters="sRGB"><feGaussianBlur stdDeviation="8"/></filter><filter id="b9" filterUnits="userSpaceOnUse" x="0" y="0" width="1725" height="1344" color-interpolation-filters="sRGB"><feGaussianBlur stdDeviation="9"/></filter><filter id="b10" filterUnits="userSpaceOnUse" x="0" y="0" width="1725" height="1344" color-interpolation-filters="sRGB"><feGaussianBlur stdDeviation="10"/></filter><filter id="b12" filterUnits="userSpaceOnUse" x="0" y="0" width="1725" height="1344" color-interpolation-filters="sRGB"><feGaussianBlur stdDeviation="12"/></filter>
</defs>
<rect x="0" y="0" width="1725" height="1344" fill="#ffffff"/>
<g id="panel-a">
<g clip-path="url(#clipA)"><g filter="url(#cmA)"><rect x="180" y="100" width="840" height="445" fill="rgb(0,0,0)"/>
<rect x="180" y="140" width="840" height="405" fill="rgb(36,36,36)"/>
<polygon points="185,140 214,140 230,330 258,545 185,545" fill="url(#g1)" filter="url(#b6)"/>
<polygon points="190,400 214,400 238,545 190,545" fill="url(#g2)" filter="url(#b5)"/>
<ellipse cx="205" cy="524" rx="15" ry="26" fill="rgb(199,199,199)" filter="url(#b5)" transform="rotate(-20 205 524)"/>
<polygon points="222,150 286,150 283,250 262,345 243,345 228,250" fill="rgb(24,24,24)" filter="url(#b10)"/>
<polygon points="283,140 396,140 375,300 358,440 268,440 280,300" fill="url(#g3)" filter="url(#b12)"/>
<polygon points="295,140 386,140 380,250 345,345 288,345 292,250" fill="url(#g4)" filter="url(#b9)"/>
<polygon points="418,140 612,140 634,545 410,545 412,330" fill="rgb(10,10,10)" filter="url(#b9)"/>
<polygon points="432,170 490,170 500,500 428,500" fill="rgb(6,6,6)" filter="url(#b12)"/>
<polygon points="500,140 532,140 522,300 508,400 484,400 494,280" fill="url(#g5)" filter="url(#b6)"/>
<polygon points="512,140 550,140 566,260 584,360 614,545 570,545 550,430 532,300" fill="url(#g6)" filter="url(#b6)"/>
<polygon points="585,330 612,330 634,545 605,545" fill="url(#g7)" filter="url(#b6)"/>
<polygon points="613,140 736,140 746,300 760,420 775,545 606,545 620,400" fill="rgb(66,66,66)" filter="url(#b6)"/>
<polygon points="628,140 724,140 735,340 745,402 755,500 760,545 706,545 696,500 656,402 634,300" fill="rgb(94,94,94)" filter="url(#b7)"/>
<polygon points="644,140 721,140 732,340 742,402 752,500 757,545 716,545 708,500 680,402 660,300" fill="rgb(128,128,128)" filter="url(#b8)"/>
<path d="M690 200 L706 340 L724 480" fill="none" stroke="rgb(139,139,139)" stroke-width="20" stroke-linecap="butt" stroke-linejoin="round" filter="url(#b7)" opacity="0.8"/>
<path d="M698 260 L712 350 L724 460" fill="none" stroke="rgb(153,153,153)" stroke-width="6" stroke-linecap="butt" stroke-linejoin="round" filter="url(#b4)" opacity="0.45"/>
<polygon points="748,200 816,200 806,400 784,510 770,400 755,300" fill="rgb(23,23,23)" filter="url(#b9)"/>
<polygon points="860,140 942,140 932,230 912,300 898,420 882,545 782,545 800,420 816,340 842,250" fill="rgb(65,65,65)" filter="url(#b8)"/>
<polygon points="786,545 826,545 862,400 880,300 850,300 826,400" fill="url(#g8)" filter="url(#b8)"/>
<ellipse cx="797" cy="522" rx="9" ry="16" fill="rgb(143,143,143)" filter="url(#b4)"/>
<path d="M1008 320 L998 430 L984 535" fill="none" stroke="rgb(18,18,18)" stroke-width="9" stroke-linecap="butt" stroke-linejoin="round" filter="url(#b4)"/>
<polygon points="993,545 1010,545 1010,455" fill="rgb(69,69,69)" filter="url(#b3)"/>
<rect x="250" y="519" width="240" height="26" fill="rgb(69,69,69)" filter="url(#b5)"/>
<path d="M472 540 C485 511 499 496 520 495.5 C544 496 564 511 590 540 Z" fill="rgb(69,69,69)" filter="url(#b4)"/>
<path d="M478 540 C491 516 502 501 520 500.5 C541 501 558 516 584 540 Z" fill="rgb(128,128,128)" filter="url(#b2_5)"/>
<path d="M482 540 C495 519 504 504 520 503.5 C539 504 554 519 580 540 Z" fill="rgb(189,189,189)" filter="url(#b1_5)"/>
<path d="M489 540 C502 525 507.5 510 520 509.5 C535.5 510 547 525 573 540 Z" fill="rgb(224,224,224)" filter="url(#b2_5)"/>
<ellipse cx="523" cy="526" rx="22" ry="14" fill="rgb(255,255,255)" filter="url(#b4)"/>
<rect x="180" y="100" width="840" height="46.5" fill="rgb(0,0,0)"/>
<rect x="180" y="146" width="840" height="40" fill="url(#g9)"/>
<polygon points="210.5,130 210.5,151 213,160.5 215.5,169.4 218,177.6 220.5,185.2 223,192.1 225.5,198.4 228,204 230.5,208.9 233,213.2 235.5,216.8 238,219.7 240.5,222 243,223.7 245.5,224.7 248,225 250.5,224.7 253,223.7 255.5,222 258,219.7 260.5,216.8 263,213.2 265.5,208.9 268,204 270.5,198.4 273,192.1 275.5,185.2 278,177.6 280.5,169.4 283,160.5 285.5,151 285.5,130" fill="url(#g10)" filter="url(#b4)"/>
<path d="M205.5 151 L208.3 161.3 L211.2 170.9 L214 179.8 L216.8 188 L219.7 195.4 L222.5 202.2 L225.3 208.2 L228.2 213.6 L231 218.2 L233.8 222.1 L236.7 225.3 L239.5 227.8 L242.3 229.6 L245.2 230.6 L248 231 L250.8 230.6 L253.7 229.6 L256.5 227.8 L259.3 225.3 L262.2 222.1 L265 218.2 L267.8 213.6 L270.7 208.2 L273.5 202.2 L276.3 195.4 L279.2 188 L282 179.8 L284.8 170.9 L287.7 161.3 L290.5 151" fill="none" stroke="url(#g11)" stroke-width="18" stroke-linecap="butt" stroke-linejoin="round" filter="url(#b4_5)"/>
<path d="M205.5 151 L208.3 161.3 L211.2 170.9 L214 179.8 L216.8 188 L219.7 195.4 L222.5 202.2 L225.3 208.2 L228.2 213.6 L231 218.2 L233.8 222.1 L236.7 225.3 L239.5 227.8 L242.3 229.6 L245.2 230.6 L248 231 L250.8 230.6 L253.7 229.6 L256.5 227.8 L259.3 225.3 L262.2 222.1 L265 218.2 L267.8 213.6 L270.7 208.2 L273.5 202.2 L276.3 195.4 L279.2 188 L282 179.8 L284.8 170.9 L287.7 161.3 L290.5 151" fill="none" stroke="url(#g12)" stroke-width="7" stroke-linecap="butt" stroke-linejoin="round" filter="url(#b2_1)"/>
<polygon points="740,130 740,152 742.6,162.3 745.2,171.9 747.8,180.8 750.4,189 753,196.4 755.6,203.2 758.2,209.2 760.8,214.6 763.4,219.2 766,223.1 768.6,226.3 771.2,228.8 773.8,230.6 776.4,231.6 779,232 781.6,231.6 784.2,230.6 786.8,228.8 789.4,226.3 792,223.1 794.6,219.2 797.2,214.6 799.8,209.2 802.4,203.2 805,196.4 807.6,189 810.2,180.8 812.8,171.9 815.4,162.3 818,152 818,130" fill="url(#g13)" filter="url(#b4)"/>
<path d="M735 152 L737.9 163.1 L740.9 173.4 L743.8 183 L746.7 191.8 L749.7 199.8 L752.6 207 L755.5 213.5 L758.5 219.3 L761.4 224.2 L764.3 228.4 L767.3 231.9 L770.2 234.6 L773.1 236.5 L776.1 237.6 L779 238 L781.9 237.6 L784.9 236.5 L787.8 234.6 L790.7 231.9 L793.7 228.4 L796.6 224.2 L799.5 219.3 L802.5 213.5 L805.4 207 L808.3 199.8 L811.3 191.8 L814.2 183 L817.1 173.4 L820.1 163.1 L823 152" fill="none" stroke="url(#g14)" stroke-width="18" stroke-linecap="butt" stroke-linejoin="round" filter="url(#b4_5)"/>
<path d="M735 152 L737.9 163.1 L740.9 173.4 L743.8 183 L746.7 191.8 L749.7 199.8 L752.6 207 L755.5 213.5 L758.5 219.3 L761.4 224.2 L764.3 228.4 L767.3 231.9 L770.2 234.6 L773.1 236.5 L776.1 237.6 L779 238 L781.9 237.6 L784.9 236.5 L787.8 234.6 L790.7 231.9 L793.7 228.4 L796.6 224.2 L799.5 219.3 L802.5 213.5 L805.4 207 L808.3 199.8 L811.3 191.8 L814.2 183 L817.1 173.4 L820.1 163.1 L823 152" fill="none" stroke="url(#g15)" stroke-width="7" stroke-linecap="butt" stroke-linejoin="round" filter="url(#b2_1)"/>
<path d="M746 178 L757 202 L770 226" fill="none" stroke="url(#g16)" stroke-width="3.5" stroke-linecap="butt" stroke-linejoin="round" filter="url(#b1_5)"/></g></g>
<rect x="189" y="106" width="821" height="423" fill="none" stroke="#2a2a2a" stroke-width="1.5"/>
<line x1="248" y1="107" x2="248" y2="527" stroke="#e6f0ff" stroke-width="2.4" stroke-dasharray="6.6 7" opacity="0.62"/>
<line x1="779" y1="107" x2="779" y2="527" stroke="#e6f0ff" stroke-width="2.4" stroke-dasharray="6.6 7" opacity="0.62"/>
<line x1="175.5" y1="174" x2="189" y2="174" stroke="#2a2a2a" stroke-width="1.4"/><line x1="175.5" y1="262.2" x2="189" y2="262.2" stroke="#2a2a2a" stroke-width="1.4"/><line x1="175.5" y1="350.5" x2="189" y2="350.5" stroke="#2a2a2a" stroke-width="1.4"/><line x1="175.5" y1="438.8" x2="189" y2="438.8" stroke="#2a2a2a" stroke-width="1.4"/><line x1="175.5" y1="527" x2="189" y2="527" stroke="#2a2a2a" stroke-width="1.4"/>
<line x1="182.5" y1="121.1" x2="189" y2="121.1" stroke="#2a2a2a" stroke-width="1.4"/><line x1="182.5" y1="138.7" x2="189" y2="138.7" stroke="#2a2a2a" stroke-width="1.4"/><line x1="182.5" y1="156.3" x2="189" y2="156.3" stroke="#2a2a2a" stroke-width="1.4"/><line x1="182.5" y1="191.7" x2="189" y2="191.7" stroke="#2a2a2a" stroke-width="1.4"/><line x1="182.5" y1="209.3" x2="189" y2="209.3" stroke="#2a2a2a" stroke-width="1.4"/><line x1="182.5" y1="226.9" x2="189" y2="226.9" stroke="#2a2a2a" stroke-width="1.4"/><line x1="182.5" y1="244.6" x2="189" y2="244.6" stroke="#2a2a2a" stroke-width="1.4"/><line x1="182.5" y1="279.9" x2="189" y2="279.9" stroke="#2a2a2a" stroke-width="1.4"/><line x1="182.5" y1="297.6" x2="189" y2="297.6" stroke="#2a2a2a" stroke-width="1.4"/><line x1="182.5" y1="315.2" x2="189" y2="315.2" stroke="#2a2a2a" stroke-width="1.4"/><line x1="182.5" y1="332.9" x2="189" y2="332.9" stroke="#2a2a2a" stroke-width="1.4"/><line x1="182.5" y1="368.1" x2="189" y2="368.1" stroke="#2a2a2a" stroke-width="1.4"/><line x1="182.5" y1="385.8" x2="189" y2="385.8" stroke="#2a2a2a" stroke-width="1.4"/><line x1="182.5" y1="403.5" x2="189" y2="403.5" stroke="#2a2a2a" stroke-width="1.4"/><line x1="182.5" y1="421.1" x2="189" y2="421.1" stroke="#2a2a2a" stroke-width="1.4"/><line x1="182.5" y1="456.4" x2="189" y2="456.4" stroke="#2a2a2a" stroke-width="1.4"/><line x1="182.5" y1="474.1" x2="189" y2="474.1" stroke="#2a2a2a" stroke-width="1.4"/><line x1="182.5" y1="491.7" x2="189" y2="491.7" stroke="#2a2a2a" stroke-width="1.4"/><line x1="182.5" y1="509.3" x2="189" y2="509.3" stroke="#2a2a2a" stroke-width="1.4"/>
<text transform="translate(133.12 182.8) scale(1.1124 1)" font-size="24.2" fill="#1a1a1a">0.0</text>
<text transform="translate(133.12 271.1) scale(1.1166 1)" font-size="24.2" fill="#1a1a1a">0.5</text>
<text transform="translate(132.13 359.3) scale(1.1428 1)" font-size="24.2" fill="#1a1a1a">1.0</text>
<text transform="translate(132.12 447.6) scale(1.1473 1)" font-size="24.2" fill="#1a1a1a">1.5</text>
<text transform="translate(132.84 535.8) scale(1.1209 1)" font-size="24.2" fill="#1a1a1a">2.0</text>
<line x1="225.5" y1="529" x2="225.5" y2="543.2" stroke="#2a2a2a" stroke-width="1.4"/><line x1="410" y1="529" x2="410" y2="543.2" stroke="#2a2a2a" stroke-width="1.4"/><line x1="594.5" y1="529" x2="594.5" y2="543.2" stroke="#2a2a2a" stroke-width="1.4"/><line x1="779" y1="529" x2="779" y2="543.2" stroke="#2a2a2a" stroke-width="1.4"/><line x1="963.5" y1="529" x2="963.5" y2="543.2" stroke="#2a2a2a" stroke-width="1.4"/>
<line x1="317.8" y1="529" x2="317.8" y2="539.7" stroke="#2a2a2a" stroke-width="1.4"/><line x1="502.2" y1="529" x2="502.2" y2="539.7" stroke="#2a2a2a" stroke-width="1.4"/><line x1="686.8" y1="529" x2="686.8" y2="539.7" stroke="#2a2a2a" stroke-width="1.4"/><line x1="871.2" y1="529" x2="871.2" y2="539.7" stroke="#2a2a2a" stroke-width="1.4"/>
<line x1="207" y1="529" x2="207" y2="536.7" stroke="#2a2a2a" stroke-width="1.4"/><line x1="244" y1="529" x2="244" y2="536.7" stroke="#2a2a2a" stroke-width="1.4"/><line x1="262.4" y1="529" x2="262.4" y2="536.7" stroke="#2a2a2a" stroke-width="1.4"/><line x1="280.8" y1="529" x2="280.8" y2="536.7" stroke="#2a2a2a" stroke-width="1.4"/><line x1="299.3" y1="529" x2="299.3" y2="536.7" stroke="#2a2a2a" stroke-width="1.4"/><line x1="336.2" y1="529" x2="336.2" y2="536.7" stroke="#2a2a2a" stroke-width="1.4"/><line x1="354.7" y1="529" x2="354.7" y2="536.7" stroke="#2a2a2a" stroke-width="1.4"/><line x1="373.1" y1="529" x2="373.1" y2="536.7" stroke="#2a2a2a" stroke-width="1.4"/><line x1="391.6" y1="529" x2="391.6" y2="536.7" stroke="#2a2a2a" stroke-width="1.4"/><line x1="428.4" y1="529" x2="428.4" y2="536.7" stroke="#2a2a2a" stroke-width="1.4"/><line x1="446.9" y1="529" x2="446.9" y2="536.7" stroke="#2a2a2a" stroke-width="1.4"/><line x1="465.4" y1="529" x2="465.4" y2="536.7" stroke="#2a2a2a" stroke-width="1.4"/><line x1="483.8" y1="529" x2="483.8" y2="536.7" stroke="#2a2a2a" stroke-width="1.4"/><line x1="520.7" y1="529" x2="520.7" y2="536.7" stroke="#2a2a2a" stroke-width="1.4"/><line x1="539.1" y1="529" x2="539.1" y2="536.7" stroke="#2a2a2a" stroke-width="1.4"/><line x1="557.6" y1="529" x2="557.6" y2="536.7" stroke="#2a2a2a" stroke-width="1.4"/><line x1="576" y1="529" x2="576" y2="536.7" stroke="#2a2a2a" stroke-width="1.4"/><line x1="613" y1="529" x2="613" y2="536.7" stroke="#2a2a2a" stroke-width="1.4"/><line x1="631.4" y1="529" x2="631.4" y2="536.7" stroke="#2a2a2a" stroke-width="1.4"/><line x1="649.9" y1="529" x2="649.9" y2="536.7" stroke="#2a2a2a" stroke-width="1.4"/><line x1="668.3" y1="529" x2="668.3" y2="536.7" stroke="#2a2a2a" stroke-width="1.4"/><line x1="705.2" y1="529" x2="705.2" y2="536.7" stroke="#2a2a2a" stroke-width="1.4"/><line x1="723.6" y1="529" x2="723.6" y2="536.7" stroke="#2a2a2a" stroke-width="1.4"/><line x1="742.1" y1="529" x2="742.1" y2="536.7" stroke="#2a2a2a" stroke-width="1.4"/><line x1="760.5" y1="529" x2="760.5" y2="536.7" stroke="#2a2a2a" stroke-width="1.4"/><line x1="797.5" y1="529" x2="797.5" y2="536.7" stroke="#2a2a2a" stroke-width="1.4"/><line x1="815.9" y1="529" x2="815.9" y2="536.7" stroke="#2a2a2a" stroke-width="1.4"/><line x1="834.4" y1="529" x2="834.4" y2="536.7" stroke="#2a2a2a" stroke-width="1.4"/><line x1="852.8" y1="529" x2="852.8" y2="536.7" stroke="#2a2a2a" stroke-width="1.4"/><line x1="889.7" y1="529" x2="889.7" y2="536.7" stroke="#2a2a2a" stroke-width="1.4"/><line x1="908.1" y1="529" x2="908.1" y2="536.7" stroke="#2a2a2a" stroke-width="1.4"/><line x1="926.6" y1="529" x2="926.6" y2="536.7" stroke="#2a2a2a" stroke-width="1.4"/><line x1="945" y1="529" x2="945" y2="536.7" stroke="#2a2a2a" stroke-width="1.4"/><line x1="982" y1="529" x2="982" y2="536.7" stroke="#2a2a2a" stroke-width="1.4"/><line x1="1000.4" y1="529" x2="1000.4" y2="536.7" stroke="#2a2a2a" stroke-width="1.4"/>
<text transform="translate(213.68 571.5) scale(1.1000 1)" font-size="23.2" fill="#1a1a1a">-3</text>
<text transform="translate(398.31 571.5) scale(1.1000 1)" font-size="23.2" fill="#1a1a1a">-2</text>
<text transform="translate(582.74 571.5) scale(1.1000 1)" font-size="23.2" fill="#1a1a1a">-1</text>
<text transform="translate(771.45 571.5) scale(1.1000 1)" font-size="23.2" fill="#1a1a1a">0</text>
<text transform="translate(955.64 571.5) scale(1.1000 1)" font-size="23.2" fill="#1a1a1a">1</text>
<text transform="translate(111.2 444.31) rotate(-90) scale(1.0292 1)" font-size="25.6" fill="#1a1a1a">Binding energy (eV)</text>
<text transform="translate(460.50 601.2) scale(1.0666 1)" font-size="24.6" fill="#1a1a1a">Parallel momentum (Å<tspan font-size="16.5" dx="0.51" dy="-11.40">-1</tspan><tspan dx="2.07" dy="11.40">)</tspan></text>
<linearGradient id="cbar" x1="0" y1="0" x2="0" y2="1"><stop offset="0%" stop-color="#ffffff"/><stop offset="40%" stop-color="#805c54"/><stop offset="60%" stop-color="#ffff99"/><stop offset="83%" stop-color="#00cc66"/><stop offset="87.3%" stop-color="#00b3b2"/><stop offset="90.5%" stop-color="#0099ff"/><stop offset="100%" stop-color="#333399"/></linearGradient>
<rect x="1036" y="133.5" width="28" height="371.5" fill="url(#cbar)" stroke="#2a2a2a" stroke-width="1.6"/>
<text transform="translate(1031.66 122) scale(1.0421 1)" font-size="21.5" fill="#1a1a1a" style='font-style:italic;'>high</text>
<text transform="translate(1030.18 533) scale(0.9816 1)" font-size="21.5" fill="#1a1a1a" style='font-style:italic;'>low</text>
<text transform="translate(231.42 91) scale(1.1678 1)" font-size="33.6" fill="#1a1a1a" style='font-family:"Liberation Serif",serif;'>Γ</text><line x1="232" y1="63.2" x2="253.1" y2="63.2" stroke="#1a1a1a" stroke-width="1.9"/><text transform="translate(251.10 99.1) scale(0.9981 1)" font-size="24.5" fill="#1a1a1a" style='font-family:"Liberation Serif",serif;'>2</text>
<text transform="translate(263.37 82.9) scale(1.0763 1)" font-size="17.3" fill="#1a1a1a">Cu</text>
<text transform="translate(507.46 94.5) scale(1.1553 1)" font-size="28.6" fill="#1a1a1a">M</text><line x1="509.5" y1="69" x2="532.5" y2="69" stroke="#1a1a1a" stroke-width="1.9"/><text transform="translate(535.20 101.5) scale(0.6222 1)" font-size="21.4" fill="#1a1a1a">1</text>
<text transform="translate(545.17 87.5) scale(1.0763 1)" font-size="17.3" fill="#1a1a1a">Cu</text>
<text transform="translate(758.92 93.8) scale(1.1678 1)" font-size="33.6" fill="#1a1a1a" style='font-family:"Liberation Serif",serif;'>Γ</text><line x1="759.5" y1="66" x2="780.6" y2="66" stroke="#1a1a1a" stroke-width="1.9"/><text transform="translate(780.51 102.6) scale(0.5906 1)" font-size="25.8" fill="#1a1a1a" style='font-family:"Liberation Serif",serif;'>1</text>
<text transform="translate(790.97 85.2) scale(1.0714 1)" font-size="17.3" fill="#1a1a1a">Cu</text>
<text transform="translate(74.84 43.3) scale(1.0116 1)" font-size="56.5" fill="#000" style='font-weight:bold;'>(a)</text>
</g>
<g id="panel-b">
<polygon points="1343.5,92.5 1430,141.7 1429,240 1343.1,285.6 1258.7,240 1258.7,141" fill="#ffffd0" stroke="none"/>
<polygon points="1515,94.8 1600.2,142.3 1600.2,235.4 1513.2,285.6 1429.5,240 1429.5,141.6" fill="#ffffd0" stroke="none"/>
<polygon points="1258.3,239.6 1343.1,285.8 1343.1,385.2 1258.3,431 1173,384.7 1173,286.5" fill="#ffffd0" stroke="none"/>
<polygon points="1429,240 1513.8,284.7 1513.8,383 1429,431 1343.1,385.2 1343.1,285.8" fill="#ffffd0" stroke="none"/>
<polygon points="1599.8,235.6 1685,283.6 1685,380.3 1599.1,428.7 1513.8,383 1513.8,284.7" fill="#ffffd0" stroke="none"/>
<polygon points="1342,385.8 1429,431.6 1429,528.4 1342.6,575.7 1258.6,528.4 1258.6,431.6" fill="#ffffd0" stroke="none"/>
<polygon points="1514.5,384.3 1600,429.3 1600,528.4 1514.5,575.7 1429,528.4 1429,431.6" fill="#ffffd0" stroke="none"/>
<polygon points="1343.5,92.5 1430,141.7 1429,240 1343.1,285.6 1258.7,240 1258.7,141" fill="none" stroke="#f4141c" stroke-width="2.2" stroke-linejoin="miter"/>
<polygon points="1515,94.8 1600.2,142.3 1600.2,235.4 1513.2,285.6 1429.5,240 1429.5,141.6" fill="none" stroke="#f4141c" stroke-width="2.2" stroke-linejoin="miter"/>
<polygon points="1258.3,239.6 1343.1,285.8 1343.1,385.2 1258.3,431 1173,384.7 1173,286.5" fill="none" stroke="#f4141c" stroke-width="2.2" stroke-linejoin="miter"/>
<polygon points="1429,240 1513.8,284.7 1513.8,383 1429,431 1343.1,385.2 1343.1,285.8" fill="none" stroke="#f4141c" stroke-width="2.2" stroke-linejoin="miter"/>
<polygon points="1599.8,235.6 1685,283.6 1685,380.3 1599.1,428.7 1513.8,383 1513.8,284.7" fill="none" stroke="#f4141c" stroke-width="2.2" stroke-linejoin="miter"/>
<polygon points="1342,385.8 1429,431.6 1429,528.4 1342.6,575.7 1258.6,528.4 1258.6,431.6" fill="none" stroke="#f4141c" stroke-width="2.2" stroke-linejoin="miter"/>
<polygon points="1514.5,384.3 1600,429.3 1600,528.4 1514.5,575.7 1429,528.4 1429,431.6" fill="none" stroke="#f4141c" stroke-width="2.2" stroke-linejoin="miter"/>
<path d="M1258.7 240 L1343.1 286.6 M1429 431 L1429 528.4 M1513.8 383.6 L1599.3 429.6 M1343.6 286 L1343.6 385" fill="none" stroke="#f4141c" stroke-width="3.4"/>
<line x1="1423.4" y1="335" x2="1670" y2="195" stroke="#6d90cc" stroke-width="1.4"/>
<line x1="1513.5" y1="283.9" x2="1600" y2="234.8" stroke="#a0586c" stroke-width="2.6"/>
<path d="M1657.5 195.2 L1670.5 194.6 L1663.5 205.2" fill="none" stroke="#6d90cc" stroke-width="1.4"/>
<line x1="1423.4" y1="334.5" x2="1719" y2="334.5" stroke="#1818e0" stroke-width="2.3"/>
<path d="M1706.5 326.5 L1720.3 334.5 L1706.5 342.5" fill="none" stroke="#1818e0" stroke-width="2.3"/>
<polygon points="1260,332.7 1339.7,194 1516.5,194 1595.1,331.6 1517.6,475 1339.7,475" fill="none" stroke="#050505" stroke-width="5" stroke-linejoin="miter"/>
<circle cx="1423.4" cy="335" r="5.2" fill="#9a9a9a" stroke="#0a0a0a" stroke-width="3"/>
<circle cx="1595.1" cy="331.6" r="5.2" fill="#9a9a9a" stroke="#0a0a0a" stroke-width="3"/>
<circle cx="1554.5" cy="260.6" r="5.2" fill="#9a9a9a" stroke="#0a0a0a" stroke-width="3"/>
<circle cx="1675.4" cy="191.9" r="5.2" fill="#9a9a9a" stroke="#0a0a0a" stroke-width="3"/>
<circle cx="1260" cy="332.7" r="5.2" fill="#9a9a9a" stroke="#0a0a0a" stroke-width="3"/>
<text transform="translate(1178.16 75.2) scale(1.0049 1)" font-size="56.5" fill="#000" style='font-weight:bold;'>(b)</text>
<text transform="translate(1325.95 180.7) scale(1.1383 1)" font-size="27.2" fill="#0a0a0a" style='font-weight:bold;'>(1x1)</text>
<text transform="translate(1478.14 85.8) scale(1.0419 1)" font-size="30" fill="#f4141c" style='font-weight:bold;'>(√3x√3)R30°</text>
<text transform="translate(1502.86 262.2) scale(1.2038 1)" font-size="30.5" fill="#1a1a1a">M</text>
<line x1="1508.7" y1="234.7" x2="1529.5" y2="234.7" stroke="#1a1a1a" stroke-width="2.4"/>
<text transform="translate(1600.43 372.9) scale(0.9124 1)" font-size="28.4" fill="#1a1a1a">K</text>
<line x1="1599.1" y1="347.2" x2="1620.3" y2="347.2" stroke="#1a1a1a" stroke-width="2.4"/>
<text transform="translate(1387.27 351.7) scale(1.0763 1)" font-size="35" fill="#1a1a1a" style='font-family:"Liberation Serif",serif;'>Γ</text>
<text transform="translate(1409.52 358.8) scale(0.9739 1)" font-size="20.3" fill="#1a1a1a">1</text>
<line x1="1387.7" y1="322.2" x2="1409" y2="322.2" stroke="#1a1a1a" stroke-width="2.4"/>
<text transform="translate(1669.33 237.6) scale(1.1479 1)" font-size="34" fill="#1a1a1a" style='font-family:"Liberation Serif",serif;'>Γ</text>
<text transform="translate(1691.72 245.9) scale(1.0989 1)" font-size="21.4" fill="#1a1a1a">2</text>
<line x1="1669.4" y1="209.7" x2="1690.6" y2="209.7" stroke="#1a1a1a" stroke-width="2.4"/>
<text transform="translate(1606.89 319.3) scale(1.1352 1)" font-size="32.5" fill="#1818e0" style='font-family:"Liberation Serif",serif;'>Γ</text>
<text transform="translate(1626.44 327.1) scale(1.0589 1)" font-size="22" fill="#1818e0">2</text>
<text transform="translate(1638.69 309.3) scale(1.1107 1)" font-size="18.2" fill="#1818e0">Cu2Te</text>
<text transform="translate(1175.69 329.8) scale(1.1352 1)" font-size="32.5" fill="#1818e0" style='font-family:"Liberation Serif",serif;'>Γ</text>
<text transform="translate(1195.17 337.2) scale(1.1189 1)" font-size="22" fill="#1818e0">2</text>
<text transform="translate(1207.48 318.9) scale(1.1225 1)" font-size="18.2" fill="#1818e0">Cu2Te</text>
</g>
<g id="panel-c">
<g clip-path="url(#clipC)"><g filter="url(#cmC)"><rect x="90" y="780" width="1140" height="482" fill="rgb(0,0,0)"/>
<rect x="90" y="840" width="895" height="422" fill="rgb(28,28,28)"/>
<polygon points="972,840 1230,840 1230,1262 950,1262 950,1100 962,960" fill="url(#g17)" filter="url(#b6)"/>
<rect x="90" y="840" width="80" height="422" fill="rgb(26,26,26)" filter="url(#b5)"/>
<polygon points="164,840 164,898 172,906 193,958 218,1012 243,1076 261,1119 278,1150 298,1171 316,1177 316,1177 327,1171 344,1152 365,1123 386,1076 404,1026 421,974 439,924 447,902 455,894 455,840" fill="url(#g18)" filter="url(#b3)"/>
<polygon points="200,840 335,840 345,960 335,1080 330,1170 290,1170 250,1100 215,1000" fill="url(#g19)" filter="url(#b12)"/>
<polygon points="218,1012 243,1076 261,1119 278,1150 298,1171 316,1177 316,1177 327,1171 344,1152 365,1123 386,1076 404,1026 421,974 447,963 439,981 429,1025 418,1066 407,1110 397,1155 386,1193 375,1225 367,1246 362,1262 257,1262 252,1246 244,1225 233,1193 222,1155 212,1110 201,1066 190,1025 180,981 172,963" fill="url(#g20)" filter="url(#b3)"/>
<polygon points="224,1040 250,1040 290,1165 340,1178 338,1262 250,1262 236,1190" fill="url(#g21)" filter="url(#b7)"/>
<polygon points="71,1262 76,1246 84,1225 95,1193 106,1155 116,1110 127,1066 138,1025 148,981 156,963 164,957 172,963 180,981 190,1025 201,1066 212,1110 222,1155 233,1193 244,1225 252,1246 257,1262" fill="url(#g22)" filter="url(#b3)"/>
<polygon points="362,1262 367,1246 375,1225 386,1193 397,1155 407,1110 418,1066 429,1025 439,981 447,963 455,957 463,963 471,981 481,1025 492,1066 503,1110 513,1155 524,1193 535,1225 543,1246 548,1262" fill="url(#g23)" filter="url(#b3)"/>
<polygon points="523,840 700,840 700,1100 523,1100" fill="url(#g24)" filter="url(#b2)"/>
<polygon points="481,1025 492,1066 503,1110 513,1155 524,1193 535,1225 543,1246 548,1262 590,1262 583,1241 572,1208 561,1173 547,1130 527,1078 509,1025" fill="url(#g25)" filter="url(#b3)"/>
<polygon points="545,1000 600,998 651,998 662,1040 674,1080 694,1112 704,1130 706,1262 590,1262 583,1241 572,1208 561,1173 547,1130 527,1078 509,1025" fill="url(#g26)" filter="url(#b6)"/>
<polygon points="600,1030 651,1010 662,1040 674,1080 692,1122 690,1180 686,1262 600,1262 590,1190 592,1110" fill="url(#g27)" filter="url(#b10)"/>
<polygon points="650,1090 690,1100 688,1190 680,1262 604,1262 624,1180" fill="url(#g28)" filter="url(#b9)"/>
<polygon points="632,845 693,845 693,990 655,1005 630,1010" fill="url(#g29)" filter="url(#b8)"/>
<polygon points="696,840 800,840 792,1000 750,1000 742,965 726,985 716,1020 706,1050 699,1000 695,950" fill="rgb(22,22,22)" filter="url(#b5)"/>
<polygon points="708,1262 707,1130 703,1100 710.5,1066 721.5,1025 731.5,981 739.5,963 747.5,957 760,962 775,1000 780,1100 770,1200 760,1262" fill="url(#g30)" filter="url(#b4)"/>
<polygon points="755,850 800,850 790,1000 775,1150 758,1150 752,1000" fill="rgb(19,19,19)" filter="url(#b8)"/>
<polygon points="704,1215 756,1215 756,1262 704,1262" fill="url(#g31)" filter="url(#b4)"/>
<polygon points="795,840 932,840 930,1000 922,1150 918,1262 750,1262 772,1100 785,1000" fill="rgb(68,68,68)" filter="url(#b7)"/>
<polygon points="828,840 900,840 900,1000 890,1150 880,1262 765,1262 795,1100 815,980" fill="url(#g32)" filter="url(#b10)"/>
<polygon points="790,1130 850,1130 880,1180 884,1262 755,1262 770,1180" fill="url(#g33)" filter="url(#b9)"/>
<path d="M792 1000 L775 1130 L758 1250" fill="none" stroke="rgb(107,107,107)" stroke-width="5" stroke-linecap="butt" stroke-linejoin="round" filter="url(#b3)"/>
<polygon points="932,845 975,845 958,960 938,1090 925,1200 925,1000" fill="rgb(33,33,33)" filter="url(#b2)"/>
<polygon points="918,1200 950,1262 900,1262" fill="rgb(66,66,66)" filter="url(#b6)"/>
<polygon points="998,975 980,1025 962,1078 942,1130 928,1173 917,1208 906,1241 899,1262 941,1262 946,1246 954,1225 965,1193 976,1155 986,1110 997,1066 1008,1025 1018,981" fill="url(#g34)" filter="url(#b6)"/>
<polygon points="941,1262 946,1246 954,1225 965,1193 976,1155 986,1110 997,1066 1008,1025 1018,981 1026,963 1034,957 1042,963 1050,981 1060,1025 1071,1066 1082,1110 1092,1155 1103,1193 1114,1225 1122,1246 1127,1262" fill="url(#g35)" filter="url(#b4)"/>
<path d="M164 896 C162.7 897.2 159.3 898 156 903 C152.7 908 148.7 914 144 926 C139.3 938 133.7 958.5 128 975 C122.3 991.5 113 1016.7 110 1025" fill="none" stroke="rgb(51,51,51)" stroke-width="16" stroke-linecap="round" stroke-linejoin="round" filter="url(#b4)" opacity="0.7"/>
<path d="M164 896 C162.7 897.2 159.3 898 156 903 C152.7 908 148.7 914 144 926 C139.3 938 133.7 958.5 128 975 C122.3 991.5 113 1016.7 110 1025" fill="none" stroke="url(#g36)" stroke-width="5.5" stroke-linecap="round" stroke-linejoin="round" filter="url(#b2)"/>
<path d="M164 957 C162.7 958 158.7 959 156 963 C153.3 967 151 970.7 148 981 C145 991.3 141.5 1010.8 138 1025 C134.5 1039.2 130.7 1051.8 127 1066 C123.3 1080.2 117.8 1102.7 116 1110" fill="none" stroke="rgb(51,51,51)" stroke-width="16" stroke-linecap="round" stroke-linejoin="round" filter="url(#b4)" opacity="0.7"/>
<path d="M164 957 C162.7 958 158.7 959 156 963 C153.3 967 151 970.7 148 981 C145 991.3 141.5 1010.8 138 1025 C134.5 1039.2 130.7 1051.8 127 1066 C123.3 1080.2 117.8 1102.7 116 1110" fill="none" stroke="url(#g37)" stroke-width="5.5" stroke-linecap="round" stroke-linejoin="round" filter="url(#b2)"/>
<path d="M164 957 C165.3 958 169.3 959 172 963 C174.7 967 177 970.7 180 981 C183 991.3 186.5 1010.8 190 1025 C193.5 1039.2 197.3 1051.8 201 1066 C204.7 1080.2 208.5 1095.2 212 1110 C215.5 1124.8 218.5 1141.2 222 1155 C225.5 1168.8 229.3 1181.3 233 1193 C236.7 1204.7 240.8 1216.2 244 1225 C247.2 1233.8 249.8 1239.8 252 1246 C254.2 1252.2 256.2 1259.3 257 1262" fill="none" stroke="rgb(82,82,82)" stroke-width="15" stroke-linecap="round" stroke-linejoin="round" filter="url(#b4)" opacity="0.7"/>
<path d="M164 957 C165.3 958 169.3 959 172 963 C174.7 967 177 970.7 180 981 C183 991.3 186.5 1010.8 190 1025 C193.5 1039.2 197.3 1051.8 201 1066 C204.7 1080.2 208.5 1095.2 212 1110 C215.5 1124.8 218.5 1141.2 222 1155 C225.5 1168.8 229.3 1181.3 233 1193 C236.7 1204.7 240.8 1216.2 244 1225 C247.2 1233.8 249.8 1239.8 252 1246 C254.2 1252.2 256.2 1259.3 257 1262" fill="none" stroke="url(#g38)" stroke-width="5.5" stroke-linecap="round" stroke-linejoin="round" filter="url(#b2)"/>
<path d="M222 1155 C223.8 1161.3 229.3 1181.3 233 1193 C236.7 1204.7 240.8 1216.2 244 1225 C247.2 1233.8 249.8 1239.8 252 1246 C254.2 1252.2 256.2 1259.3 257 1262" fill="none" stroke="url(#g39)" stroke-width="6" stroke-linecap="butt" stroke-linejoin="round" filter="url(#b2_2)"/>
<path d="M164 898 C165.3 899.3 167.2 896 172 906 C176.8 916 185.3 940.3 193 958 C200.7 975.7 209.7 992.3 218 1012 C226.3 1031.7 235.8 1058.2 243 1076 C250.2 1093.8 255.2 1106.7 261 1119 C266.8 1131.3 271.8 1141.3 278 1150 C284.2 1158.7 291.7 1166.5 298 1171 C304.3 1175.5 310 1177.5 316 1177 C322 1176.5 329 1172.2 334 1168 C339 1163.8 340.8 1159.5 346 1152 C351.2 1144.5 358.3 1135.7 365 1123 C371.7 1110.3 379.5 1092.2 386 1076 C392.5 1059.8 398.2 1043 404 1026 C409.8 1009 415.2 991 421 974 C426.8 957 434.7 935.8 439 924 C443.3 912.2 444.3 908 447 903 C449.7 898 453.7 895.5 455 894" fill="none" stroke="url(#g40)" stroke-width="18" stroke-linecap="butt" stroke-linejoin="round" filter="url(#b4_5)"/>
<path d="M164 898 C165.3 899.3 167.2 896 172 906 C176.8 916 185.3 940.3 193 958 C200.7 975.7 209.7 992.3 218 1012 C226.3 1031.7 235.8 1058.2 243 1076 C250.2 1093.8 255.2 1106.7 261 1119 C266.8 1131.3 271.8 1141.3 278 1150 C284.2 1158.7 291.7 1166.5 298 1171 C304.3 1175.5 310 1177.5 316 1177 C322 1176.5 329 1172.2 334 1168 C339 1163.8 340.8 1159.5 346 1152 C351.2 1144.5 358.3 1135.7 365 1123 C371.7 1110.3 379.5 1092.2 386 1076 C392.5 1059.8 398.2 1043 404 1026 C409.8 1009 415.2 991 421 974 C426.8 957 434.7 935.8 439 924 C443.3 912.2 444.3 908 447 903 C449.7 898 453.7 895.5 455 894" fill="none" stroke="url(#g41)" stroke-width="5.5" stroke-linecap="butt" stroke-linejoin="round" filter="url(#b1_8)"/>
<path d="M193 958 C197.2 967 209.7 992.3 218 1012 C226.3 1031.7 235.8 1058.2 243 1076 C250.2 1093.8 255.2 1106.7 261 1119 C266.8 1131.3 271.8 1141.3 278 1150 C284.2 1158.7 291.7 1166.5 298 1171 C304.3 1175.5 313 1176 316 1177" fill="none" stroke="url(#g42)" stroke-width="9.5" stroke-linecap="round" stroke-linejoin="round" filter="url(#b2_6)"/>
<ellipse cx="308" cy="1172" rx="27" ry="12" fill="rgb(178,178,178)" filter="url(#b5)" transform="rotate(6 308 1172)"/>
<path d="M218 1012 C220.3 1017.8 227.8 1036.5 232 1047 C236.2 1057.5 238.2 1063.2 243 1075 C247.8 1086.8 255.5 1106.2 261 1118 C266.5 1129.8 271.5 1139 276 1146 C280.5 1153 286 1157.7 288 1160" fill="none" stroke="url(#g43)" stroke-width="6.5" stroke-linecap="round" stroke-linejoin="round" filter="url(#b2)"/>
<path d="M455 896 C456.3 897.2 459.7 898 463 903 C466.3 908 470.3 914 475 926 C479.7 938 485.3 958.5 491 975 C496.7 991.5 503 1007.8 509 1025 C515 1042.2 520.7 1060.5 527 1078 C533.3 1095.5 541.3 1114.2 547 1130 C552.7 1145.8 556.8 1160 561 1173 C565.2 1186 568.3 1196.7 572 1208 C575.7 1219.3 580 1232 583 1241 C586 1250 588.8 1258.5 590 1262" fill="none" stroke="rgb(61,61,61)" stroke-width="14" stroke-linecap="round" stroke-linejoin="round" filter="url(#b4)" opacity="0.7"/>
<path d="M455 896 C456.3 897.2 459.7 898 463 903 C466.3 908 470.3 914 475 926 C479.7 938 485.3 958.5 491 975 C496.7 991.5 503 1007.8 509 1025 C515 1042.2 520.7 1060.5 527 1078 C533.3 1095.5 541.3 1114.2 547 1130 C552.7 1145.8 556.8 1160 561 1173 C565.2 1186 568.3 1196.7 572 1208 C575.7 1219.3 580 1232 583 1241 C586 1250 588.8 1258.5 590 1262" fill="none" stroke="url(#g44)" stroke-width="5.5" stroke-linecap="round" stroke-linejoin="round" filter="url(#b2)"/>
<path d="M455 957 C453.7 958 449.7 959 447 963 C444.3 967 442 970.7 439 981 C436 991.3 432.5 1010.8 429 1025 C425.5 1039.2 421.7 1051.8 418 1066 C414.3 1080.2 410.5 1095.2 407 1110 C403.5 1124.8 400.5 1141.2 397 1155 C393.5 1168.8 389.7 1181.3 386 1193 C382.3 1204.7 378.2 1216.2 375 1225 C371.8 1233.8 369.2 1239.8 367 1246 C364.8 1252.2 362.8 1259.3 362 1262" fill="none" stroke="rgb(92,92,92)" stroke-width="16" stroke-linecap="round" stroke-linejoin="round" filter="url(#b4)" opacity="0.8"/>
<path d="M455 957 C453.7 958 449.7 959 447 963 C444.3 967 442 970.7 439 981 C436 991.3 432.5 1010.8 429 1025 C425.5 1039.2 421.7 1051.8 418 1066 C414.3 1080.2 410.5 1095.2 407 1110 C403.5 1124.8 400.5 1141.2 397 1155 C393.5 1168.8 389.7 1181.3 386 1193 C382.3 1204.7 378.2 1216.2 375 1225 C371.8 1233.8 369.2 1239.8 367 1246 C364.8 1252.2 362.8 1259.3 362 1262" fill="none" stroke="url(#g45)" stroke-width="7" stroke-linecap="round" stroke-linejoin="round" filter="url(#b2)"/>
<path d="M455 957 C456.3 958 460.3 959 463 963 C465.7 967 468 970.7 471 981 C474 991.3 477.5 1010.8 481 1025 C484.5 1039.2 488.3 1051.8 492 1066 C495.7 1080.2 499.5 1095.2 503 1110 C506.5 1124.8 509.5 1141.2 513 1155 C516.5 1168.8 520.3 1181.3 524 1193 C527.7 1204.7 531.8 1216.2 535 1225 C538.2 1233.8 540.8 1239.8 543 1246 C545.2 1252.2 547.2 1259.3 548 1262" fill="none" stroke="rgb(69,69,69)" stroke-width="15" stroke-linecap="round" stroke-linejoin="round" filter="url(#b4)" opacity="0.7"/>
<path d="M455 957 C456.3 958 460.3 959 463 963 C465.7 967 468 970.7 471 981 C474 991.3 477.5 1010.8 481 1025 C484.5 1039.2 488.3 1051.8 492 1066 C495.7 1080.2 499.5 1095.2 503 1110 C506.5 1124.8 509.5 1141.2 513 1155 C516.5 1168.8 520.3 1181.3 524 1193 C527.7 1204.7 531.8 1216.2 535 1225 C538.2 1233.8 540.8 1239.8 543 1246 C545.2 1252.2 547.2 1259.3 548 1262" fill="none" stroke="url(#g46)" stroke-width="6" stroke-linecap="round" stroke-linejoin="round" filter="url(#b2)"/>
<polygon points="531,1205 547,1262 528,1262" fill="rgb(250,250,250)" filter="url(#b2_5)"/>
<ellipse cx="452" cy="899" rx="6" ry="9" fill="rgb(173,173,173)" filter="url(#b3)" transform="rotate(25 452 899)"/>
<ellipse cx="451" cy="965" rx="8" ry="11" fill="rgb(184,184,184)" filter="url(#b3)" transform="rotate(25 451 965)"/>
<path d="M749 894.5 C747.7 894.9 743.3 895.4 741 897 C738.7 898.6 737.6 900 735.4 904 C733.2 908 729.9 915 727.7 921 C725.5 927 724 933.2 722 940 C720 946.8 717.8 954.5 716 962 C714.2 969.5 711.8 981.2 711 985" fill="none" stroke="url(#g47)" stroke-width="7" stroke-linecap="round" stroke-linejoin="round" filter="url(#b3)"/>
<path d="M747.5 957 C746.2 958 742.2 959 739.5 963 C736.8 967 734.5 970.7 731.5 981 C728.5 991.3 725 1010.8 721.5 1025 C718 1039.2 714.2 1051.8 710.5 1066 C706.8 1080.2 703 1095.2 699.5 1110 C696 1124.8 691.2 1147.5 689.5 1155" fill="none" stroke="rgb(51,51,51)" stroke-width="15" stroke-linecap="round" stroke-linejoin="round" filter="url(#b4)" opacity="0.5"/>
<path d="M747.5 957 C746.2 958 742.2 959 739.5 963 C736.8 967 734.5 970.7 731.5 981 C728.5 991.3 725 1010.8 721.5 1025 C718 1039.2 714.2 1051.8 710.5 1066 C706.8 1080.2 703 1095.2 699.5 1110 C696 1124.8 691.2 1147.5 689.5 1155" fill="none" stroke="url(#g48)" stroke-width="6" stroke-linecap="round" stroke-linejoin="round" filter="url(#b2)"/>
<path d="M699.5 1110 C697.8 1117.5 693 1141.2 689.5 1155 C686 1168.8 682.2 1181.3 678.5 1193 C674.8 1204.7 670.7 1216.2 667.5 1225 C664.3 1233.8 661.7 1239.8 659.5 1246 C657.3 1252.2 655.3 1259.3 654.5 1262" fill="none" stroke="url(#g49)" stroke-width="3.6" stroke-linecap="butt" stroke-linejoin="round" filter="url(#b1_8)"/>
<path d="M747.5 957 C748.8 958 752.8 959 755.5 963 C758.2 967 762.2 978 763.5 981" fill="none" stroke="url(#g50)" stroke-width="6" stroke-linecap="round" stroke-linejoin="round" filter="url(#b3)"/>
<path d="M1034 896 C1032.7 897.2 1029.3 898 1026 903 C1022.7 908 1018.7 914 1014 926 C1009.3 938 1003.7 958.5 998 975 C992.3 991.5 986 1007.8 980 1025 C974 1042.2 965 1069.2 962 1078" fill="none" stroke="rgb(41,41,41)" stroke-width="16" stroke-linecap="round" stroke-linejoin="round" filter="url(#b5)" opacity="0.6"/>
<path d="M1034 896 C1032.7 897.2 1029.3 898 1026 903 C1022.7 908 1018.7 914 1014 926 C1009.3 938 1003.7 958.5 998 975 C992.3 991.5 986 1007.8 980 1025 C974 1042.2 965 1069.2 962 1078" fill="none" stroke="url(#g51)" stroke-width="7" stroke-linecap="round" stroke-linejoin="round" filter="url(#b3)"/>
<ellipse cx="1034" cy="902" rx="6" ry="7" fill="rgb(128,128,128)" filter="url(#b3)"/>
<path d="M1034 896 C1035.3 897.2 1038.7 898 1042 903 C1045.3 908 1049.3 914 1054 926 C1058.7 938 1064.3 958.5 1070 975 C1075.7 991.5 1082 1007.8 1088 1025 C1094 1042.2 1099.7 1060.5 1106 1078 C1112.3 1095.5 1122.7 1121.3 1126 1130" fill="none" stroke="url(#g52)" stroke-width="6.5" stroke-linecap="round" stroke-linejoin="round" filter="url(#b3)"/>
<path d="M1034 957 C1032.7 958 1028.7 959 1026 963 C1023.3 967 1021 970.7 1018 981 C1015 991.3 1011.5 1010.8 1008 1025 C1004.5 1039.2 1000.7 1051.8 997 1066 C993.3 1080.2 989.5 1095.2 986 1110 C982.5 1124.8 979.5 1141.2 976 1155 C972.5 1168.8 968.7 1181.3 965 1193 C961.3 1204.7 957.2 1216.2 954 1225 C950.8 1233.8 948.2 1239.8 946 1246 C943.8 1252.2 941.8 1259.3 941 1262" fill="none" stroke="rgb(56,56,56)" stroke-width="17" stroke-linecap="round" stroke-linejoin="round" filter="url(#b4)" opacity="0.85"/>
<path d="M1034 957 C1032.7 958 1028.7 959 1026 963 C1023.3 967 1021 970.7 1018 981 C1015 991.3 1011.5 1010.8 1008 1025 C1004.5 1039.2 1000.7 1051.8 997 1066 C993.3 1080.2 989.5 1095.2 986 1110 C982.5 1124.8 979.5 1141.2 976 1155 C972.5 1168.8 968.7 1181.3 965 1193 C961.3 1204.7 957.2 1216.2 954 1225 C950.8 1233.8 948.2 1239.8 946 1246 C943.8 1252.2 941.8 1259.3 941 1262" fill="none" stroke="url(#g53)" stroke-width="7.5" stroke-linecap="round" stroke-linejoin="round" filter="url(#b2)"/>
<path d="M1034 957 C1035.3 958 1039.3 959 1042 963 C1044.7 967 1047 970.7 1050 981 C1053 991.3 1056.5 1010.8 1060 1025 C1063.5 1039.2 1067.3 1051.8 1071 1066 C1074.7 1080.2 1078.5 1095.2 1082 1110 C1085.5 1124.8 1088.5 1141.2 1092 1155 C1095.5 1168.8 1099.3 1181.3 1103 1193 C1106.7 1204.7 1110.8 1216.2 1114 1225 C1117.2 1233.8 1119.8 1239.8 1122 1246 C1124.2 1252.2 1126.2 1259.3 1127 1262" fill="none" stroke="rgb(33,33,33)" stroke-width="15" stroke-linecap="round" stroke-linejoin="round" filter="url(#b4)" opacity="0.6"/>
<path d="M1034 957 C1035.3 958 1039.3 959 1042 963 C1044.7 967 1047 970.7 1050 981 C1053 991.3 1056.5 1010.8 1060 1025 C1063.5 1039.2 1067.3 1051.8 1071 1066 C1074.7 1080.2 1078.5 1095.2 1082 1110 C1085.5 1124.8 1088.5 1141.2 1092 1155 C1095.5 1168.8 1099.3 1181.3 1103 1193 C1106.7 1204.7 1110.8 1216.2 1114 1225 C1117.2 1233.8 1119.8 1239.8 1122 1246 C1124.2 1252.2 1126.2 1259.3 1127 1262" fill="none" stroke="url(#g54)" stroke-width="6.5" stroke-linecap="round" stroke-linejoin="round" filter="url(#b2_5)"/>
<rect x="90" y="780" width="1140" height="58.5" fill="rgb(0,0,0)"/>
<rect x="90" y="838" width="1140" height="48" fill="url(#g55)"/></g></g>
<rect x="106" y="789.5" width="1105" height="459" fill="none" stroke="#2a2a2a" stroke-width="1.5"/>
<line x1="163.7" y1="791" x2="163.7" y2="1247" stroke="#eef4ff" stroke-width="1.8" stroke-dasharray="7 6.2" opacity="0.85"/>
<line x1="455" y1="791" x2="455" y2="1247" stroke="#eef4ff" stroke-width="1.8" stroke-dasharray="7 6.2" opacity="0.85"/>
<line x1="747.3" y1="791" x2="747.3" y2="1247" stroke="#eef4ff" stroke-width="1.8" stroke-dasharray="7 6.2" opacity="0.85"/>
<line x1="1033.3" y1="791" x2="1033.3" y2="1247" stroke="#eef4ff" stroke-width="1.8" stroke-dasharray="7 6.2" opacity="0.85"/>
<text transform="translate(657.13 892) scale(1.0545 1)" font-size="27.5" fill="#eaf6ff" style='font-weight:bold;'>S</text>
<text transform="translate(677.30 898) scale(0.6884 1)" font-size="17" fill="#eaf6ff" style='font-weight:bold;'>1</text>
<text transform="translate(638.78 987) scale(0.9939 1)" font-size="27.5" fill="#eaf6ff" style='font-weight:bold;'>S</text>
<text transform="translate(656.89 993) scale(1.0172 1)" font-size="17" fill="#eaf6ff" style='font-weight:bold;'>2</text>
<line x1="689" y1="896" x2="718" y2="908.7" stroke="#eaf6ff" stroke-width="2"/>
<polygon points="727,912.7 713.5,912.3 717.5,903" fill="#eaf6ff"/>
<line x1="672.5" y1="989" x2="702" y2="1002" stroke="#eaf6ff" stroke-width="2"/>
<polygon points="711.2,1006.2 697.7,1005.8 701.7,996.5" fill="#eaf6ff"/>
<line x1="91.5" y1="866.2" x2="106" y2="866.2" stroke="#2a2a2a" stroke-width="1.4"/><line x1="91.5" y1="961.7" x2="106" y2="961.7" stroke="#2a2a2a" stroke-width="1.4"/><line x1="91.5" y1="1057.2" x2="106" y2="1057.2" stroke="#2a2a2a" stroke-width="1.4"/><line x1="91.5" y1="1152.7" x2="106" y2="1152.7" stroke="#2a2a2a" stroke-width="1.4"/><line x1="91.5" y1="1248.2" x2="106" y2="1248.2" stroke="#2a2a2a" stroke-width="1.4"/>
<line x1="99" y1="808.9" x2="106" y2="808.9" stroke="#2a2a2a" stroke-width="1.4"/><line x1="99" y1="828" x2="106" y2="828" stroke="#2a2a2a" stroke-width="1.4"/><line x1="99" y1="847.1" x2="106" y2="847.1" stroke="#2a2a2a" stroke-width="1.4"/><line x1="99" y1="885.3" x2="106" y2="885.3" stroke="#2a2a2a" stroke-width="1.4"/><line x1="99" y1="904.4" x2="106" y2="904.4" stroke="#2a2a2a" stroke-width="1.4"/><line x1="99" y1="923.5" x2="106" y2="923.5" stroke="#2a2a2a" stroke-width="1.4"/><line x1="99" y1="942.6" x2="106" y2="942.6" stroke="#2a2a2a" stroke-width="1.4"/><line x1="99" y1="980.8" x2="106" y2="980.8" stroke="#2a2a2a" stroke-width="1.4"/><line x1="99" y1="999.9" x2="106" y2="999.9" stroke="#2a2a2a" stroke-width="1.4"/><line x1="99" y1="1019" x2="106" y2="1019" stroke="#2a2a2a" stroke-width="1.4"/><line x1="99" y1="1038.1" x2="106" y2="1038.1" stroke="#2a2a2a" stroke-width="1.4"/><line x1="99" y1="1076.3" x2="106" y2="1076.3" stroke="#2a2a2a" stroke-width="1.4"/><line x1="99" y1="1095.4" x2="106" y2="1095.4" stroke="#2a2a2a" stroke-width="1.4"/><line x1="99" y1="1114.5" x2="106" y2="1114.5" stroke="#2a2a2a" stroke-width="1.4"/><line x1="99" y1="1133.6" x2="106" y2="1133.6" stroke="#2a2a2a" stroke-width="1.4"/><line x1="99" y1="1171.8" x2="106" y2="1171.8" stroke="#2a2a2a" stroke-width="1.4"/><line x1="99" y1="1190.9" x2="106" y2="1190.9" stroke="#2a2a2a" stroke-width="1.4"/><line x1="99" y1="1210" x2="106" y2="1210" stroke="#2a2a2a" stroke-width="1.4"/><line x1="99" y1="1229.1" x2="106" y2="1229.1" stroke="#2a2a2a" stroke-width="1.4"/>
<text transform="translate(49.11 873.9) scale(1.1442 1)" font-size="21.6" fill="#1a1a1a">0.0</text>
<text transform="translate(49.11 969) scale(1.1486 1)" font-size="21.6" fill="#1a1a1a">0.5</text>
<text transform="translate(48.20 1062.1) scale(1.1755 1)" font-size="21.6" fill="#1a1a1a">1.0</text>
<text transform="translate(48.19 1155.1) scale(1.1801 1)" font-size="21.6" fill="#1a1a1a">1.5</text>
<text transform="translate(48.85 1250.2) scale(1.1530 1)" font-size="21.6" fill="#1a1a1a">2.0</text>
<line x1="219" y1="1248.5" x2="219" y2="1264.3" stroke="#2a2a2a" stroke-width="1.4"/><line x1="394.5" y1="1248.5" x2="394.5" y2="1264.3" stroke="#2a2a2a" stroke-width="1.4"/><line x1="570" y1="1248.5" x2="570" y2="1264.3" stroke="#2a2a2a" stroke-width="1.4"/><line x1="745.5" y1="1248.5" x2="745.5" y2="1264.3" stroke="#2a2a2a" stroke-width="1.4"/><line x1="921" y1="1248.5" x2="921" y2="1264.3" stroke="#2a2a2a" stroke-width="1.4"/><line x1="1096.5" y1="1248.5" x2="1096.5" y2="1264.3" stroke="#2a2a2a" stroke-width="1.4"/>
<line x1="131.2" y1="1248.5" x2="131.2" y2="1260.7" stroke="#2a2a2a" stroke-width="1.4"/><line x1="306.8" y1="1248.5" x2="306.8" y2="1260.7" stroke="#2a2a2a" stroke-width="1.4"/><line x1="482.2" y1="1248.5" x2="482.2" y2="1260.7" stroke="#2a2a2a" stroke-width="1.4"/><line x1="657.8" y1="1248.5" x2="657.8" y2="1260.7" stroke="#2a2a2a" stroke-width="1.4"/><line x1="833.2" y1="1248.5" x2="833.2" y2="1260.7" stroke="#2a2a2a" stroke-width="1.4"/><line x1="1008.8" y1="1248.5" x2="1008.8" y2="1260.7" stroke="#2a2a2a" stroke-width="1.4"/><line x1="1184.2" y1="1248.5" x2="1184.2" y2="1260.7" stroke="#2a2a2a" stroke-width="1.4"/>
<line x1="113.7" y1="1248.5" x2="113.7" y2="1257.5" stroke="#2a2a2a" stroke-width="1.4"/><line x1="148.8" y1="1248.5" x2="148.8" y2="1257.5" stroke="#2a2a2a" stroke-width="1.4"/><line x1="166.4" y1="1248.5" x2="166.4" y2="1257.5" stroke="#2a2a2a" stroke-width="1.4"/><line x1="183.9" y1="1248.5" x2="183.9" y2="1257.5" stroke="#2a2a2a" stroke-width="1.4"/><line x1="201.4" y1="1248.5" x2="201.4" y2="1257.5" stroke="#2a2a2a" stroke-width="1.4"/><line x1="236.6" y1="1248.5" x2="236.6" y2="1257.5" stroke="#2a2a2a" stroke-width="1.4"/><line x1="254.1" y1="1248.5" x2="254.1" y2="1257.5" stroke="#2a2a2a" stroke-width="1.4"/><line x1="271.6" y1="1248.5" x2="271.6" y2="1257.5" stroke="#2a2a2a" stroke-width="1.4"/><line x1="289.2" y1="1248.5" x2="289.2" y2="1257.5" stroke="#2a2a2a" stroke-width="1.4"/><line x1="324.3" y1="1248.5" x2="324.3" y2="1257.5" stroke="#2a2a2a" stroke-width="1.4"/><line x1="341.9" y1="1248.5" x2="341.9" y2="1257.5" stroke="#2a2a2a" stroke-width="1.4"/><line x1="359.4" y1="1248.5" x2="359.4" y2="1257.5" stroke="#2a2a2a" stroke-width="1.4"/><line x1="376.9" y1="1248.5" x2="376.9" y2="1257.5" stroke="#2a2a2a" stroke-width="1.4"/><line x1="412.1" y1="1248.5" x2="412.1" y2="1257.5" stroke="#2a2a2a" stroke-width="1.4"/><line x1="429.6" y1="1248.5" x2="429.6" y2="1257.5" stroke="#2a2a2a" stroke-width="1.4"/><line x1="447.2" y1="1248.5" x2="447.2" y2="1257.5" stroke="#2a2a2a" stroke-width="1.4"/><line x1="464.7" y1="1248.5" x2="464.7" y2="1257.5" stroke="#2a2a2a" stroke-width="1.4"/><line x1="499.8" y1="1248.5" x2="499.8" y2="1257.5" stroke="#2a2a2a" stroke-width="1.4"/><line x1="517.4" y1="1248.5" x2="517.4" y2="1257.5" stroke="#2a2a2a" stroke-width="1.4"/><line x1="534.9" y1="1248.5" x2="534.9" y2="1257.5" stroke="#2a2a2a" stroke-width="1.4"/><line x1="552.5" y1="1248.5" x2="552.5" y2="1257.5" stroke="#2a2a2a" stroke-width="1.4"/><line x1="587.5" y1="1248.5" x2="587.5" y2="1257.5" stroke="#2a2a2a" stroke-width="1.4"/><line x1="605.1" y1="1248.5" x2="605.1" y2="1257.5" stroke="#2a2a2a" stroke-width="1.4"/><line x1="622.6" y1="1248.5" x2="622.6" y2="1257.5" stroke="#2a2a2a" stroke-width="1.4"/><line x1="640.2" y1="1248.5" x2="640.2" y2="1257.5" stroke="#2a2a2a" stroke-width="1.4"/><line x1="675.3" y1="1248.5" x2="675.3" y2="1257.5" stroke="#2a2a2a" stroke-width="1.4"/><line x1="692.9" y1="1248.5" x2="692.9" y2="1257.5" stroke="#2a2a2a" stroke-width="1.4"/><line x1="710.4" y1="1248.5" x2="710.4" y2="1257.5" stroke="#2a2a2a" stroke-width="1.4"/><line x1="728" y1="1248.5" x2="728" y2="1257.5" stroke="#2a2a2a" stroke-width="1.4"/><line x1="763" y1="1248.5" x2="763" y2="1257.5" stroke="#2a2a2a" stroke-width="1.4"/><line x1="780.6" y1="1248.5" x2="780.6" y2="1257.5" stroke="#2a2a2a" stroke-width="1.4"/><line x1="798.1" y1="1248.5" x2="798.1" y2="1257.5" stroke="#2a2a2a" stroke-width="1.4"/><line x1="815.7" y1="1248.5" x2="815.7" y2="1257.5" stroke="#2a2a2a" stroke-width="1.4"/><line x1="850.8" y1="1248.5" x2="850.8" y2="1257.5" stroke="#2a2a2a" stroke-width="1.4"/><line x1="868.4" y1="1248.5" x2="868.4" y2="1257.5" stroke="#2a2a2a" stroke-width="1.4"/><line x1="885.9" y1="1248.5" x2="885.9" y2="1257.5" stroke="#2a2a2a" stroke-width="1.4"/><line x1="903.5" y1="1248.5" x2="903.5" y2="1257.5" stroke="#2a2a2a" stroke-width="1.4"/><line x1="938.5" y1="1248.5" x2="938.5" y2="1257.5" stroke="#2a2a2a" stroke-width="1.4"/><line x1="956.1" y1="1248.5" x2="956.1" y2="1257.5" stroke="#2a2a2a" stroke-width="1.4"/><line x1="973.6" y1="1248.5" x2="973.6" y2="1257.5" stroke="#2a2a2a" stroke-width="1.4"/><line x1="991.2" y1="1248.5" x2="991.2" y2="1257.5" stroke="#2a2a2a" stroke-width="1.4"/><line x1="1026.3" y1="1248.5" x2="1026.3" y2="1257.5" stroke="#2a2a2a" stroke-width="1.4"/><line x1="1043.8" y1="1248.5" x2="1043.8" y2="1257.5" stroke="#2a2a2a" stroke-width="1.4"/><line x1="1061.4" y1="1248.5" x2="1061.4" y2="1257.5" stroke="#2a2a2a" stroke-width="1.4"/><line x1="1079" y1="1248.5" x2="1079" y2="1257.5" stroke="#2a2a2a" stroke-width="1.4"/><line x1="1114" y1="1248.5" x2="1114" y2="1257.5" stroke="#2a2a2a" stroke-width="1.4"/><line x1="1131.6" y1="1248.5" x2="1131.6" y2="1257.5" stroke="#2a2a2a" stroke-width="1.4"/><line x1="1149.2" y1="1248.5" x2="1149.2" y2="1257.5" stroke="#2a2a2a" stroke-width="1.4"/><line x1="1166.7" y1="1248.5" x2="1166.7" y2="1257.5" stroke="#2a2a2a" stroke-width="1.4"/><line x1="1201.8" y1="1248.5" x2="1201.8" y2="1257.5" stroke="#2a2a2a" stroke-width="1.4"/>
<text transform="translate(207.98 1293.8) scale(1.1300 1)" font-size="22" fill="#1a1a1a">-3</text>
<text transform="translate(383.60 1293.8) scale(1.1300 1)" font-size="22" fill="#1a1a1a">-2</text>
<text transform="translate(559.04 1293.8) scale(1.1300 1)" font-size="22" fill="#1a1a1a">-1</text>
<text transform="translate(738.64 1293.8) scale(1.1300 1)" font-size="22" fill="#1a1a1a">0</text>
<text transform="translate(913.83 1293.8) scale(1.1300 1)" font-size="22" fill="#1a1a1a">1</text>
<text transform="translate(1089.70 1293.8) scale(1.1300 1)" font-size="22" fill="#1a1a1a">2</text>
<text transform="translate(31.1 1151.77) rotate(-90) scale(1.0694 1)" font-size="26.5" fill="#1a1a1a">Binding energy (eV)</text>
<text transform="translate(527.82 1328.1) scale(1.1397 1)" font-size="25" fill="#1a1a1a">Parallel momentum (Å<tspan font-size="17" dx="0.31" dy="-11.60">-1</tspan><tspan dx="0.79" dy="11.60">)</tspan></text>
<text transform="translate(66.65 718) scale(0.9377 1)" font-size="56.5" fill="#000" style='font-weight:bold;'>(c)</text>
<text transform="translate(139.35 771.3) scale(1.0859 1)" font-size="32.4" fill="#2c2a86" style='font-family:"Liberation Serif",serif;'>Γ</text><line x1="139.8" y1="744.8" x2="158.8" y2="744.8" stroke="#2c2a86" stroke-width="1.9"/><text transform="translate(158.43 780.1) scale(0.8684 1)" font-size="24.7" fill="#2c2a86" style='font-family:"Liberation Serif",serif;'>3</text>
<text transform="translate(168.61 763.4) scale(1.1158 1)" font-size="19.5" fill="#2c2a86">Cu<tspan font-size="12.1" dx="-0.58" dy="0.5">2</tspan><tspan dx="-0.58" dy="-0.5">Te</tspan></text>
<text transform="translate(270.50 780) scale(1.0615 1)" font-size="28.3" fill="#2c2a86">M</text><line x1="272.3" y1="753.3" x2="293.3" y2="753.3" stroke="#2c2a86" stroke-width="1.9"/><text transform="translate(293.28 785.8) scale(1.1209 1)" font-size="20" fill="#2c2a86">2</text>
<text transform="translate(305.19 773.5) scale(1.1382 1)" font-size="19.5" fill="#2c2a86">Cu<tspan font-size="12.1" dx="-0.58" dy="0.5">2</tspan><tspan dx="-0.58" dy="-0.5">Te</tspan></text>
<text transform="translate(425.62 771.3) scale(1.1099 1)" font-size="32.4" fill="#2c2a86" style='font-family:"Liberation Serif",serif;'>Γ</text><line x1="426.1" y1="744.8" x2="445.5" y2="744.8" stroke="#2c2a86" stroke-width="1.9"/><text transform="translate(444.70 780.1) scale(0.9920 1)" font-size="24.7" fill="#2c2a86" style='font-family:"Liberation Serif",serif;'>2</text>
<text transform="translate(455.71 763.4) scale(1.1158 1)" font-size="19.5" fill="#2c2a86">Cu<tspan font-size="12.1" dx="-0.58" dy="0.5">2</tspan><tspan dx="-0.58" dy="-0.5">Te</tspan></text>
<text transform="translate(570.32 780) scale(1.0985 1)" font-size="28.3" fill="#2c2a86">M</text><line x1="572.2" y1="753.3" x2="593.9" y2="753.3" stroke="#2c2a86" stroke-width="1.9"/><text transform="translate(596.23 785.8) scale(0.6437 1)" font-size="20" fill="#2c2a86">1</text>
<text transform="translate(605.30 773.5) scale(1.1300 1)" font-size="19.5" fill="#2c2a86">Cu<tspan font-size="12.1" dx="-0.58" dy="0.5">2</tspan><tspan dx="-0.58" dy="-0.5">Te</tspan></text>
<text transform="translate(711.92 771.3) scale(1.1159 1)" font-size="32.4" fill="#2c2a86" style='font-family:"Liberation Serif",serif;'>Γ</text><line x1="712.4" y1="744.8" x2="731.9" y2="744.8" stroke="#2c2a86" stroke-width="1.9"/><text transform="translate(733.01 780.5) scale(0.5976 1)" font-size="25.5" fill="#2c2a86" style='font-family:"Liberation Serif",serif;'>1</text>
<text transform="translate(742.12 763.4) scale(1.1077 1)" font-size="19.5" fill="#2c2a86">Cu<tspan font-size="12.1" dx="-0.58" dy="0.5">2</tspan><tspan dx="-0.58" dy="-0.5">Te</tspan></text>
<text transform="translate(862.40 780) scale(1.1038 1)" font-size="28.3" fill="#2c2a86">M</text><line x1="864.3" y1="753.3" x2="886.1" y2="753.3" stroke="#2c2a86" stroke-width="1.9"/><text transform="translate(888.23 785.8) scale(0.6437 1)" font-size="20" fill="#2c2a86">1</text>
<text transform="translate(897.50 773.5) scale(1.1300 1)" font-size="19.5" fill="#2c2a86">Cu<tspan font-size="12.1" dx="-0.58" dy="0.5">2</tspan><tspan dx="-0.58" dy="-0.5">Te</tspan></text>
<text transform="translate(998.32 771.3) scale(1.1159 1)" font-size="32.4" fill="#2c2a86" style='font-family:"Liberation Serif",serif;'>Γ</text><line x1="998.8" y1="744.8" x2="1018.3" y2="744.8" stroke="#2c2a86" stroke-width="1.9"/><text transform="translate(1017.48 780.1) scale(1.0123 1)" font-size="24.7" fill="#2c2a86" style='font-family:"Liberation Serif",serif;'>2</text>
<text transform="translate(1028.52 763.4) scale(1.1056 1)" font-size="19.5" fill="#2c2a86">Cu<tspan font-size="12.1" dx="-0.58" dy="0.5">2</tspan><tspan dx="-0.58" dy="-0.5">Te</tspan></text>
</g>
<g id="panel-d">
<g clip-path="url(#clipD)"><g filter="url(#cmD)"><rect x="1315" y="780" width="310" height="482" fill="rgb(5,5,5)"/>
<rect x="1315" y="860" width="310" height="402" fill="rgb(29,29,29)"/>
<polygon points="1324.5,1262 1331.5,1246 1340.5,1227 1349.5,1205 1361,1180 1370.5,1154.8 1381.5,1127.7 1392,1101.5 1401.5,1077 1411.5,1054 1424.5,1031 1439.5,1011.6 1449.5,1005 1461.5,1002 1473.5,1005 1483.5,1011.6 1498.5,1031 1511.5,1054 1521.5,1077 1531,1101.5 1541.5,1127.7 1552.5,1154.8 1562,1180 1573.5,1205 1582.5,1227 1591.5,1246 1598.5,1262" fill="url(#g56)" filter="url(#b4)"/>
<polygon points="1461.5,923 1451.5,927 1441.5,934 1422.5,951 1405.5,975 1391.5,1001 1374.5,1025 1358.5,1048 1343.5,1071.6 1329.5,1091 1316.5,1110 1310,1262 1324.5,1262 1331.5,1246 1340.5,1227 1349.5,1205 1361,1180 1370.5,1154.8 1381.5,1127.7 1392,1101.5 1401.5,1077 1411.5,1054 1424.5,1031 1439.5,1011.6 1449.5,1005 1461.5,1002" fill="rgb(40,40,40)" filter="url(#b5)"/>
<polygon points="1461.5,923 1471.5,927 1481.5,934 1500.5,950 1521.5,971 1546.5,995 1571.5,1020 1596.5,1048 1621.5,1078 1630,1262 1598.5,1262 1591.5,1246 1582.5,1227 1573.5,1205 1562,1180 1552.5,1154.8 1541.5,1127.7 1531,1101.5 1521.5,1077 1511.5,1054 1498.5,1031 1483.5,1011.6 1473.5,1005 1461.5,1002" fill="rgb(36,36,36)" filter="url(#b5)"/>
<path d="M1316.5 1110 C1318.7 1106.8 1325 1097.4 1329.5 1091 C1334 1084.6 1338.7 1078.8 1343.5 1071.6 C1348.3 1064.4 1353.3 1055.8 1358.5 1048 C1363.7 1040.2 1369 1032.8 1374.5 1025 C1380 1017.2 1386.3 1009.3 1391.5 1001 C1396.7 992.7 1400.3 983.3 1405.5 975 C1410.7 966.7 1416.5 957.8 1422.5 951 C1428.5 944.2 1436.7 938 1441.5 934 C1446.3 930 1448.2 928.8 1451.5 927 C1454.8 925.2 1459.8 923.7 1461.5 923" fill="none" stroke="rgb(64,64,64)" stroke-width="24" stroke-linecap="round" stroke-linejoin="round" filter="url(#b5)" opacity="0.85"/>
<path d="M1461.5 923 C1463.2 923.7 1468.2 925.2 1471.5 927 C1474.8 928.8 1476.7 930.2 1481.5 934 C1486.3 937.8 1493.8 943.8 1500.5 950 C1507.2 956.2 1513.8 963.5 1521.5 971 C1529.2 978.5 1538.2 986.8 1546.5 995 C1554.8 1003.2 1563.2 1011.2 1571.5 1020 C1579.8 1028.8 1588.2 1038.3 1596.5 1048 C1604.8 1057.7 1617.3 1073 1621.5 1078" fill="none" stroke="url(#g57)" stroke-width="24" stroke-linecap="round" stroke-linejoin="round" filter="url(#b5)"/>
<path d="M1316.5 1110 C1318.7 1106.8 1325 1097.4 1329.5 1091 C1334 1084.6 1338.7 1078.8 1343.5 1071.6 C1348.3 1064.4 1353.3 1055.8 1358.5 1048 C1363.7 1040.2 1369 1032.8 1374.5 1025 C1380 1017.2 1386.3 1009.3 1391.5 1001 C1396.7 992.7 1400.3 983.3 1405.5 975 C1410.7 966.7 1416.5 957.8 1422.5 951 C1428.5 944.2 1436.7 938 1441.5 934 C1446.3 930 1448.2 928.8 1451.5 927 C1454.8 925.2 1459.8 923.7 1461.5 923" fill="none" stroke="url(#g58)" stroke-width="9.5" stroke-linecap="round" stroke-linejoin="round" filter="url(#b3_2)"/>
<path d="M1461.5 923 C1463.2 923.7 1468.2 925.2 1471.5 927 C1474.8 928.8 1476.7 930.2 1481.5 934 C1486.3 937.8 1493.8 943.8 1500.5 950 C1507.2 956.2 1513.8 963.5 1521.5 971 C1529.2 978.5 1538.2 986.8 1546.5 995 C1554.8 1003.2 1563.2 1011.2 1571.5 1020 C1579.8 1028.8 1588.2 1038.3 1596.5 1048 C1604.8 1057.7 1617.3 1073 1621.5 1078" fill="none" stroke="url(#g59)" stroke-width="9.5" stroke-linecap="round" stroke-linejoin="round" filter="url(#b3_2)"/>
<path d="M1405.5 975 C1408.3 971 1416.5 957.8 1422.5 951 C1428.5 944.2 1436.7 938 1441.5 934 C1446.3 930 1448.2 928.8 1451.5 927 C1454.8 925.2 1458.2 923 1461.5 923 C1464.8 923 1468.2 925.2 1471.5 927 C1474.8 928.8 1476.7 930.2 1481.5 934 C1486.3 937.8 1497.3 947.3 1500.5 950" fill="none" stroke="url(#g60)" stroke-width="4.5" stroke-linecap="butt" stroke-linejoin="round" filter="url(#b2_5)"/>
<path d="M1324.5 1262 C1325.7 1259.3 1328.8 1251.8 1331.5 1246 C1334.2 1240.2 1337.5 1233.8 1340.5 1227 C1343.5 1220.2 1346.1 1212.8 1349.5 1205 C1352.9 1197.2 1357.5 1188.4 1361 1180 C1364.5 1171.6 1367.1 1163.5 1370.5 1154.8 C1373.9 1146.1 1377.9 1136.6 1381.5 1127.7 C1385.1 1118.8 1388.7 1110 1392 1101.5 C1395.3 1093 1398.2 1084.9 1401.5 1077 C1404.8 1069.1 1407.7 1061.7 1411.5 1054 C1415.3 1046.3 1419.8 1038.1 1424.5 1031 C1429.2 1023.9 1435.3 1015.9 1439.5 1011.6 C1443.7 1007.3 1445.8 1006.6 1449.5 1005 C1453.2 1003.4 1457.5 1002 1461.5 1002 C1465.5 1002 1469.8 1003.4 1473.5 1005 C1477.2 1006.6 1479.3 1007.3 1483.5 1011.6 C1487.7 1015.9 1493.8 1023.9 1498.5 1031 C1503.2 1038.1 1507.7 1046.3 1511.5 1054 C1515.3 1061.7 1518.2 1069.1 1521.5 1077 C1524.8 1084.9 1527.7 1093 1531 1101.5 C1534.3 1110 1537.9 1118.8 1541.5 1127.7 C1545.1 1136.6 1549.1 1146.1 1552.5 1154.8 C1555.9 1163.5 1558.5 1171.6 1562 1180 C1565.5 1188.4 1570.1 1197.2 1573.5 1205 C1576.9 1212.8 1579.5 1220.2 1582.5 1227 C1585.5 1233.8 1588.8 1240.2 1591.5 1246 C1594.2 1251.8 1597.3 1259.3 1598.5 1262" fill="none" stroke="rgb(69,69,69)" stroke-width="30" stroke-linecap="round" stroke-linejoin="round" filter="url(#b5)" opacity="0.95"/>
<path d="M1324.5 1262 C1325.7 1259.3 1328.8 1251.8 1331.5 1246 C1334.2 1240.2 1337.5 1233.8 1340.5 1227 C1343.5 1220.2 1346.1 1212.8 1349.5 1205 C1352.9 1197.2 1357.5 1188.4 1361 1180 C1364.5 1171.6 1367.1 1163.5 1370.5 1154.8 C1373.9 1146.1 1377.9 1136.6 1381.5 1127.7 C1385.1 1118.8 1388.7 1110 1392 1101.5 C1395.3 1093 1398.2 1084.9 1401.5 1077 C1404.8 1069.1 1407.7 1061.7 1411.5 1054 C1415.3 1046.3 1419.8 1038.1 1424.5 1031 C1429.2 1023.9 1435.3 1015.9 1439.5 1011.6 C1443.7 1007.3 1445.8 1006.6 1449.5 1005 C1453.2 1003.4 1457.5 1002 1461.5 1002 C1465.5 1002 1469.8 1003.4 1473.5 1005 C1477.2 1006.6 1479.3 1007.3 1483.5 1011.6 C1487.7 1015.9 1493.8 1023.9 1498.5 1031 C1503.2 1038.1 1507.7 1046.3 1511.5 1054 C1515.3 1061.7 1518.2 1069.1 1521.5 1077 C1524.8 1084.9 1527.7 1093 1531 1101.5 C1534.3 1110 1537.9 1118.8 1541.5 1127.7 C1545.1 1136.6 1549.1 1146.1 1552.5 1154.8 C1555.9 1163.5 1558.5 1171.6 1562 1180 C1565.5 1188.4 1570.1 1197.2 1573.5 1205 C1576.9 1212.8 1579.5 1220.2 1582.5 1227 C1585.5 1233.8 1588.8 1240.2 1591.5 1246 C1594.2 1251.8 1597.3 1259.3 1598.5 1262" fill="none" stroke="rgb(120,120,120)" stroke-width="15" stroke-linecap="round" stroke-linejoin="round" filter="url(#b3_2)"/>
<path d="M1324.5 1262 C1325.7 1259.3 1328.8 1251.8 1331.5 1246 C1334.2 1240.2 1337.5 1233.8 1340.5 1227 C1343.5 1220.2 1346.1 1212.8 1349.5 1205 C1352.9 1197.2 1357.5 1188.4 1361 1180 C1364.5 1171.6 1367.1 1163.5 1370.5 1154.8 C1373.9 1146.1 1377.9 1136.6 1381.5 1127.7 C1385.1 1118.8 1388.7 1110 1392 1101.5 C1395.3 1093 1398.2 1084.9 1401.5 1077 C1404.8 1069.1 1407.7 1061.7 1411.5 1054 C1415.3 1046.3 1419.8 1038.1 1424.5 1031 C1429.2 1023.9 1435.3 1015.9 1439.5 1011.6 C1443.7 1007.3 1445.8 1006.6 1449.5 1005 C1453.2 1003.4 1457.5 1002 1461.5 1002 C1465.5 1002 1469.8 1003.4 1473.5 1005 C1477.2 1006.6 1479.3 1007.3 1483.5 1011.6 C1487.7 1015.9 1493.8 1023.9 1498.5 1031 C1503.2 1038.1 1507.7 1046.3 1511.5 1054 C1515.3 1061.7 1518.2 1069.1 1521.5 1077 C1524.8 1084.9 1527.7 1093 1531 1101.5 C1534.3 1110 1537.9 1118.8 1541.5 1127.7 C1545.1 1136.6 1549.1 1146.1 1552.5 1154.8 C1555.9 1163.5 1558.5 1171.6 1562 1180 C1565.5 1188.4 1570.1 1197.2 1573.5 1205 C1576.9 1212.8 1579.5 1220.2 1582.5 1227 C1585.5 1233.8 1588.8 1240.2 1591.5 1246 C1594.2 1251.8 1597.3 1259.3 1598.5 1262" fill="none" stroke="url(#g61)" stroke-width="6.5" stroke-linecap="butt" stroke-linejoin="round" filter="url(#b2_6)"/>
<rect x="1315" y="780" width="310" height="82.5" fill="rgb(5,5,5)"/>
<rect x="1315" y="862" width="310" height="34" fill="url(#g62)"/></g></g>
<rect x="1323" y="786" width="292" height="464" fill="none" stroke="#2a2a2a" stroke-width="1.5"/>
<line x1="1325.5" y1="883.3" x2="1612.5" y2="883.3" stroke="#f4f8ff" stroke-width="2.8" stroke-dasharray="9 9.2" stroke-dashoffset="-3" opacity="0.95"/>
<line x1="1460.7" y1="884" x2="1460.7" y2="915" stroke="#0a0a0a" stroke-width="1.8"/>
<polygon points="1460.7,924 1456.6,912.5 1464.8,912.5" fill="#0a0a0a"/>
<line x1="1460.7" y1="936" x2="1460.7" y2="987" stroke="#0a0a0a" stroke-width="1.8"/>
<polygon points="1460.7,926.5 1456.6,938 1464.8,938" fill="#0a0a0a"/>
<polygon points="1460.7,997.5 1456.6,986 1464.8,986" fill="#0a0a0a"/>
<text transform="translate(1472.77 911.2) scale(1.0379 1)" font-size="22.3" fill="#eaf2ff" style='font-weight:bold;'>~ 0.18 eV</text>
<text transform="translate(1472.77 967.9) scale(1.0379 1)" font-size="22.3" fill="#eaf2ff" style='font-weight:bold;'>~ 0.31 eV</text>
<line x1="1311.5" y1="882.9" x2="1323" y2="882.9" stroke="#2a2a2a" stroke-width="1.4"/><line x1="1311.5" y1="1004.6" x2="1323" y2="1004.6" stroke="#2a2a2a" stroke-width="1.4"/><line x1="1311.5" y1="1126.4" x2="1323" y2="1126.4" stroke="#2a2a2a" stroke-width="1.4"/><line x1="1311.5" y1="1248.2" x2="1323" y2="1248.2" stroke="#2a2a2a" stroke-width="1.4"/>
<text transform="translate(1274.29 890.7) scale(1.0006 1)" font-size="22.8" fill="#1a1a1a">0.0</text>
<text transform="translate(1274.28 1012) scale(1.0044 1)" font-size="22.8" fill="#1a1a1a">0.5</text>
<text transform="translate(1273.44 1133.5) scale(1.0280 1)" font-size="22.8" fill="#1a1a1a">1.0</text>
<text transform="translate(1273.44 1254) scale(1.0320 1)" font-size="22.8" fill="#1a1a1a">1.5</text>
<line x1="1326" y1="1250" x2="1326" y2="1262.7" stroke="#2a2a2a" stroke-width="1.4"/><line x1="1408" y1="1250" x2="1408" y2="1262.7" stroke="#2a2a2a" stroke-width="1.4"/><line x1="1490" y1="1250" x2="1490" y2="1262.7" stroke="#2a2a2a" stroke-width="1.4"/><line x1="1572" y1="1250" x2="1572" y2="1262.7" stroke="#2a2a2a" stroke-width="1.4"/>
<line x1="1367" y1="1250" x2="1367" y2="1257" stroke="#2a2a2a" stroke-width="1.4"/><line x1="1449" y1="1250" x2="1449" y2="1257" stroke="#2a2a2a" stroke-width="1.4"/><line x1="1531" y1="1250" x2="1531" y2="1257" stroke="#2a2a2a" stroke-width="1.4"/><line x1="1613" y1="1250" x2="1613" y2="1257" stroke="#2a2a2a" stroke-width="1.4"/>
<text transform="translate(1306.38 1288.3) scale(1.0100 1)" font-size="22" fill="#1a1a1a">-2.0</text>
<text transform="translate(1388.44 1288.3) scale(1.0100 1)" font-size="22" fill="#1a1a1a">-1.8</text>
<text transform="translate(1470.44 1288.3) scale(1.0100 1)" font-size="22" fill="#1a1a1a">-1.6</text>
<text transform="translate(1552.32 1288.3) scale(1.0100 1)" font-size="22" fill="#1a1a1a">-1.4</text>
<text transform="translate(1258.1 1134.45) rotate(-90) scale(0.9931 1)" font-size="23.3" fill="#1a1a1a">Binding energy (eV)</text>
<text transform="translate(1337.56 1321.8) scale(1.0453 1)" font-size="22" fill="#1a1a1a">Parallel momentum (Å<tspan font-size="14" dx="0.46" dy="-9.80">-1</tspan><tspan dx="2.42" dy="9.80">)</tspan></text>
<text transform="translate(1285.88 738) scale(1.0319 1)" font-size="56.5" fill="#000" style='font-weight:bold;'>(d)</text>
<text transform="translate(1448.69 774.3) scale(1.1399 1)" font-size="32.4" fill="#2c2a86" style='font-family:"Liberation Serif",serif;'>Γ</text><line x1="1449.2" y1="749.7" x2="1469.1" y2="749.7" stroke="#2c2a86" stroke-width="1.9"/><text transform="translate(1468.32 781.9) scale(0.8303 1)" font-size="23.5" fill="#2c2a86" style='font-family:"Liberation Serif",serif;'>2</text>
<text transform="translate(1476.73 767.2) scale(1.1568 1)" font-size="18.5" fill="#2c2a86">Cu<tspan font-size="11.5" dx="-0.55" dy="0.5">2</tspan><tspan dx="-0.55" dy="-0.5">Te</tspan></text>
</g>
</svg>
</body>
</html>
